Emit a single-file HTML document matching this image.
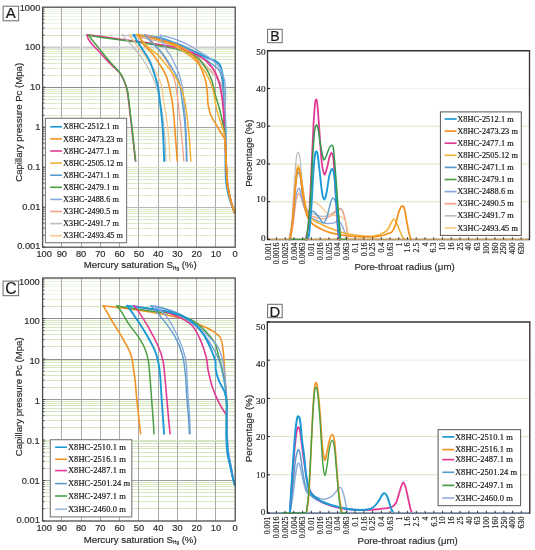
<!DOCTYPE html>
<html><head><meta charset="utf-8"><title>Capillary pressure and pore-throat distribution</title>
<style>html,body{margin:0;padding:0;background:#fff;width:535px;height:550px;overflow:hidden}</style>
</head><body>
<svg width="535" height="550" viewBox="0 0 535 550" style="display:block">
<rect width="535" height="550" fill="#ffffff"/>
<rect x="42.6" y="7.2" width="192.6" height="240" fill="#ffffff"/>
<line x1="42.6" y1="235.5" x2="235.2" y2="235.5" stroke="#dcebc8" stroke-width="1"/>
<line x1="42.6" y1="228.5" x2="235.2" y2="228.5" stroke="#dcebc8" stroke-width="1"/>
<line x1="42.6" y1="223.5" x2="235.2" y2="223.5" stroke="#dcebc8" stroke-width="1"/>
<line x1="42.6" y1="219.5" x2="235.2" y2="219.5" stroke="#dcebc8" stroke-width="1"/>
<line x1="42.6" y1="216.5" x2="235.2" y2="216.5" stroke="#dcebc8" stroke-width="1"/>
<line x1="42.6" y1="213.5" x2="235.2" y2="213.5" stroke="#dcebc8" stroke-width="1"/>
<line x1="42.6" y1="211.5" x2="235.2" y2="211.5" stroke="#dcebc8" stroke-width="1"/>
<line x1="42.6" y1="209.5" x2="235.2" y2="209.5" stroke="#dcebc8" stroke-width="1"/>
<line x1="42.6" y1="195.5" x2="235.2" y2="195.5" stroke="#dcebc8" stroke-width="1"/>
<line x1="42.6" y1="188.5" x2="235.2" y2="188.5" stroke="#dcebc8" stroke-width="1"/>
<line x1="42.6" y1="183.5" x2="235.2" y2="183.5" stroke="#dcebc8" stroke-width="1"/>
<line x1="42.6" y1="179.5" x2="235.2" y2="179.5" stroke="#dcebc8" stroke-width="1"/>
<line x1="42.6" y1="176.5" x2="235.2" y2="176.5" stroke="#dcebc8" stroke-width="1"/>
<line x1="42.6" y1="173.5" x2="235.2" y2="173.5" stroke="#dcebc8" stroke-width="1"/>
<line x1="42.6" y1="171.5" x2="235.2" y2="171.5" stroke="#dcebc8" stroke-width="1"/>
<line x1="42.6" y1="169.5" x2="235.2" y2="169.5" stroke="#dcebc8" stroke-width="1"/>
<line x1="42.6" y1="155.5" x2="235.2" y2="155.5" stroke="#dcebc8" stroke-width="1"/>
<line x1="42.6" y1="148.5" x2="235.2" y2="148.5" stroke="#dcebc8" stroke-width="1"/>
<line x1="42.6" y1="143.5" x2="235.2" y2="143.5" stroke="#dcebc8" stroke-width="1"/>
<line x1="42.6" y1="139.5" x2="235.2" y2="139.5" stroke="#dcebc8" stroke-width="1"/>
<line x1="42.6" y1="136.5" x2="235.2" y2="136.5" stroke="#dcebc8" stroke-width="1"/>
<line x1="42.6" y1="133.5" x2="235.2" y2="133.5" stroke="#dcebc8" stroke-width="1"/>
<line x1="42.6" y1="131.5" x2="235.2" y2="131.5" stroke="#dcebc8" stroke-width="1"/>
<line x1="42.6" y1="129.5" x2="235.2" y2="129.5" stroke="#dcebc8" stroke-width="1"/>
<line x1="42.6" y1="115.5" x2="235.2" y2="115.5" stroke="#dcebc8" stroke-width="1"/>
<line x1="42.6" y1="108.5" x2="235.2" y2="108.5" stroke="#dcebc8" stroke-width="1"/>
<line x1="42.6" y1="103.5" x2="235.2" y2="103.5" stroke="#dcebc8" stroke-width="1"/>
<line x1="42.6" y1="99.5" x2="235.2" y2="99.5" stroke="#dcebc8" stroke-width="1"/>
<line x1="42.6" y1="96.5" x2="235.2" y2="96.5" stroke="#dcebc8" stroke-width="1"/>
<line x1="42.6" y1="93.5" x2="235.2" y2="93.5" stroke="#dcebc8" stroke-width="1"/>
<line x1="42.6" y1="91.5" x2="235.2" y2="91.5" stroke="#dcebc8" stroke-width="1"/>
<line x1="42.6" y1="89.5" x2="235.2" y2="89.5" stroke="#dcebc8" stroke-width="1"/>
<line x1="42.6" y1="75.5" x2="235.2" y2="75.5" stroke="#dcebc8" stroke-width="1"/>
<line x1="42.6" y1="68.5" x2="235.2" y2="68.5" stroke="#dcebc8" stroke-width="1"/>
<line x1="42.6" y1="63.5" x2="235.2" y2="63.5" stroke="#dcebc8" stroke-width="1"/>
<line x1="42.6" y1="59.5" x2="235.2" y2="59.5" stroke="#dcebc8" stroke-width="1"/>
<line x1="42.6" y1="56.5" x2="235.2" y2="56.5" stroke="#dcebc8" stroke-width="1"/>
<line x1="42.6" y1="53.5" x2="235.2" y2="53.5" stroke="#dcebc8" stroke-width="1"/>
<line x1="42.6" y1="51.5" x2="235.2" y2="51.5" stroke="#dcebc8" stroke-width="1"/>
<line x1="42.6" y1="49.5" x2="235.2" y2="49.5" stroke="#dcebc8" stroke-width="1"/>
<line x1="42.6" y1="35.5" x2="235.2" y2="35.5" stroke="#d3e7bf" stroke-width="1"/>
<line x1="42.6" y1="28.5" x2="235.2" y2="28.5" stroke="#dfedd0" stroke-width="1"/>
<line x1="42.6" y1="23.5" x2="235.2" y2="23.5" stroke="#ecf4e4" stroke-width="1"/>
<line x1="42.6" y1="19.5" x2="235.2" y2="19.5" stroke="#ecf4e4" stroke-width="1"/>
<line x1="42.6" y1="16.5" x2="235.2" y2="16.5" stroke="#ecf4e4" stroke-width="1"/>
<line x1="42.6" y1="13.5" x2="235.2" y2="13.5" stroke="#ecf4e4" stroke-width="1"/>
<line x1="42.6" y1="11.5" x2="235.2" y2="11.5" stroke="#ecf4e4" stroke-width="1"/>
<line x1="42.6" y1="9.5" x2="235.2" y2="9.5" stroke="#ecf4e4" stroke-width="1"/>
<line x1="215.5" y1="7.2" x2="215.5" y2="247.2" stroke="#ababab" stroke-width="1"/>
<line x1="196.5" y1="7.2" x2="196.5" y2="247.2" stroke="#ababab" stroke-width="1"/>
<line x1="177.5" y1="7.2" x2="177.5" y2="247.2" stroke="#ababab" stroke-width="1"/>
<line x1="158.5" y1="7.2" x2="158.5" y2="247.2" stroke="#ababab" stroke-width="1"/>
<line x1="138.5" y1="7.2" x2="138.5" y2="247.2" stroke="#ababab" stroke-width="1"/>
<line x1="119.5" y1="7.2" x2="119.5" y2="247.2" stroke="#ababab" stroke-width="1"/>
<line x1="100.5" y1="7.2" x2="100.5" y2="247.2" stroke="#ababab" stroke-width="1"/>
<line x1="81.5" y1="7.2" x2="81.5" y2="247.2" stroke="#ababab" stroke-width="1"/>
<line x1="61.5" y1="7.2" x2="61.5" y2="247.2" stroke="#ababab" stroke-width="1"/>
<line x1="42.6" y1="207.5" x2="235.2" y2="207.5" stroke="#bdb4b6" stroke-width="1.1"/>
<line x1="42.6" y1="167.5" x2="235.2" y2="167.5" stroke="#d6e6c8" stroke-width="1"/>
<line x1="42.6" y1="127.5" x2="235.2" y2="127.5" stroke="#a3a3a3" stroke-width="1.1"/>
<line x1="42.6" y1="87.5" x2="235.2" y2="87.5" stroke="#8c8c8c" stroke-width="1.1"/>
<line x1="42.6" y1="47.5" x2="235.2" y2="47.5" stroke="#cdcdcd" stroke-width="2"/>
<line x1="42.6" y1="247.2" x2="45.1" y2="247.2" stroke="#333" stroke-width="0.9"/>
<line x1="42.6" y1="235.16" x2="44.4" y2="235.16" stroke="#333" stroke-width="0.9"/>
<line x1="42.6" y1="228.12" x2="44.4" y2="228.12" stroke="#333" stroke-width="0.9"/>
<line x1="42.6" y1="223.12" x2="44.4" y2="223.12" stroke="#333" stroke-width="0.9"/>
<line x1="42.6" y1="219.24" x2="44.4" y2="219.24" stroke="#333" stroke-width="0.9"/>
<line x1="42.6" y1="216.07" x2="44.4" y2="216.07" stroke="#333" stroke-width="0.9"/>
<line x1="42.6" y1="213.4" x2="44.4" y2="213.4" stroke="#333" stroke-width="0.9"/>
<line x1="42.6" y1="211.08" x2="44.4" y2="211.08" stroke="#333" stroke-width="0.9"/>
<line x1="42.6" y1="209.03" x2="44.4" y2="209.03" stroke="#333" stroke-width="0.9"/>
<line x1="42.6" y1="207.2" x2="45.1" y2="207.2" stroke="#333" stroke-width="0.9"/>
<line x1="42.6" y1="195.16" x2="44.4" y2="195.16" stroke="#333" stroke-width="0.9"/>
<line x1="42.6" y1="188.12" x2="44.4" y2="188.12" stroke="#333" stroke-width="0.9"/>
<line x1="42.6" y1="183.12" x2="44.4" y2="183.12" stroke="#333" stroke-width="0.9"/>
<line x1="42.6" y1="179.24" x2="44.4" y2="179.24" stroke="#333" stroke-width="0.9"/>
<line x1="42.6" y1="176.07" x2="44.4" y2="176.07" stroke="#333" stroke-width="0.9"/>
<line x1="42.6" y1="173.4" x2="44.4" y2="173.4" stroke="#333" stroke-width="0.9"/>
<line x1="42.6" y1="171.08" x2="44.4" y2="171.08" stroke="#333" stroke-width="0.9"/>
<line x1="42.6" y1="169.03" x2="44.4" y2="169.03" stroke="#333" stroke-width="0.9"/>
<line x1="42.6" y1="167.2" x2="45.1" y2="167.2" stroke="#333" stroke-width="0.9"/>
<line x1="42.6" y1="155.16" x2="44.4" y2="155.16" stroke="#333" stroke-width="0.9"/>
<line x1="42.6" y1="148.12" x2="44.4" y2="148.12" stroke="#333" stroke-width="0.9"/>
<line x1="42.6" y1="143.12" x2="44.4" y2="143.12" stroke="#333" stroke-width="0.9"/>
<line x1="42.6" y1="139.24" x2="44.4" y2="139.24" stroke="#333" stroke-width="0.9"/>
<line x1="42.6" y1="136.07" x2="44.4" y2="136.07" stroke="#333" stroke-width="0.9"/>
<line x1="42.6" y1="133.4" x2="44.4" y2="133.4" stroke="#333" stroke-width="0.9"/>
<line x1="42.6" y1="131.08" x2="44.4" y2="131.08" stroke="#333" stroke-width="0.9"/>
<line x1="42.6" y1="129.03" x2="44.4" y2="129.03" stroke="#333" stroke-width="0.9"/>
<line x1="42.6" y1="127.2" x2="45.1" y2="127.2" stroke="#333" stroke-width="0.9"/>
<line x1="42.6" y1="115.16" x2="44.4" y2="115.16" stroke="#333" stroke-width="0.9"/>
<line x1="42.6" y1="108.12" x2="44.4" y2="108.12" stroke="#333" stroke-width="0.9"/>
<line x1="42.6" y1="103.12" x2="44.4" y2="103.12" stroke="#333" stroke-width="0.9"/>
<line x1="42.6" y1="99.24" x2="44.4" y2="99.24" stroke="#333" stroke-width="0.9"/>
<line x1="42.6" y1="96.07" x2="44.4" y2="96.07" stroke="#333" stroke-width="0.9"/>
<line x1="42.6" y1="93.4" x2="44.4" y2="93.4" stroke="#333" stroke-width="0.9"/>
<line x1="42.6" y1="91.08" x2="44.4" y2="91.08" stroke="#333" stroke-width="0.9"/>
<line x1="42.6" y1="89.03" x2="44.4" y2="89.03" stroke="#333" stroke-width="0.9"/>
<line x1="42.6" y1="87.2" x2="45.1" y2="87.2" stroke="#333" stroke-width="0.9"/>
<line x1="42.6" y1="75.16" x2="44.4" y2="75.16" stroke="#333" stroke-width="0.9"/>
<line x1="42.6" y1="68.12" x2="44.4" y2="68.12" stroke="#333" stroke-width="0.9"/>
<line x1="42.6" y1="63.12" x2="44.4" y2="63.12" stroke="#333" stroke-width="0.9"/>
<line x1="42.6" y1="59.24" x2="44.4" y2="59.24" stroke="#333" stroke-width="0.9"/>
<line x1="42.6" y1="56.07" x2="44.4" y2="56.07" stroke="#333" stroke-width="0.9"/>
<line x1="42.6" y1="53.4" x2="44.4" y2="53.4" stroke="#333" stroke-width="0.9"/>
<line x1="42.6" y1="51.08" x2="44.4" y2="51.08" stroke="#333" stroke-width="0.9"/>
<line x1="42.6" y1="49.03" x2="44.4" y2="49.03" stroke="#333" stroke-width="0.9"/>
<line x1="42.6" y1="47.2" x2="45.1" y2="47.2" stroke="#333" stroke-width="0.9"/>
<line x1="42.6" y1="35.16" x2="44.4" y2="35.16" stroke="#333" stroke-width="0.9"/>
<line x1="42.6" y1="28.12" x2="44.4" y2="28.12" stroke="#333" stroke-width="0.9"/>
<line x1="42.6" y1="23.12" x2="44.4" y2="23.12" stroke="#333" stroke-width="0.9"/>
<line x1="42.6" y1="19.24" x2="44.4" y2="19.24" stroke="#333" stroke-width="0.9"/>
<line x1="42.6" y1="16.07" x2="44.4" y2="16.07" stroke="#333" stroke-width="0.9"/>
<line x1="42.6" y1="13.4" x2="44.4" y2="13.4" stroke="#333" stroke-width="0.9"/>
<line x1="42.6" y1="11.08" x2="44.4" y2="11.08" stroke="#333" stroke-width="0.9"/>
<line x1="42.6" y1="9.03" x2="44.4" y2="9.03" stroke="#333" stroke-width="0.9"/>
<path d="M234.7,213 C234.1,211.43 232.23,206.98 231.1,203.6 C229.98,200.22 228.8,196.33 227.97,192.7 C227.13,189.07 226.5,185.58 226.1,181.8 C225.7,178.02 225.68,173.63 225.58,170 C225.47,166.37 225.47,163.33 225.47,160 C225.48,156.67 225.58,155 225.6,150 C225.62,145 225.73,136.67 225.6,130 C225.47,123.33 225.13,116.67 224.8,110 C224.47,103.33 223.93,95.5 223.6,90 C223.27,84.5 223.07,80.1 222.8,77 C222.53,73.9 222.5,73.45 222,71.4 C221.5,69.35 220.82,66.38 219.8,64.7 C218.78,63.02 217.87,62.42 215.9,61.3 C213.93,60.18 211.73,59.68 208,58 C204.27,56.32 198.17,53.37 193.5,51.2 C188.83,49.03 185.37,47.18 180,45 C174.63,42.82 166.63,39.57 161.3,38.1 C155.97,36.63 152.63,36.72 148,36.2 C143.37,35.68 135.92,35.2 133.5,35" fill="none" stroke="#1d9ad6" stroke-width="1.9" stroke-linejoin="round" stroke-linecap="round"/>
<path d="M234.7,213 C234.22,211.43 232.72,206.98 231.83,203.6 C230.93,200.22 230.01,196.33 229.32,192.7 C228.64,189.07 228.1,185.58 227.7,181.8 C227.3,178.02 227.16,173.63 226.92,170 C226.68,166.37 226.46,163.33 226.24,160 C226.02,156.67 225.77,153.33 225.6,150 C225.43,146.67 225.33,143.67 225.2,140 C225.07,136.33 224.92,132.17 224.8,128 C224.68,123.83 224.38,119.67 224.5,115 C224.62,110.33 225.43,105.5 225.5,100 C225.57,94.5 225.57,86.67 224.9,82 C224.23,77.33 222.43,74.52 221.5,72 C220.57,69.48 221.55,69.43 219.3,66.9 C217.05,64.37 211.22,59.27 208,56.8 C204.78,54.33 202.92,53.9 200,52.1 C197.08,50.3 194.33,48.05 190.5,46 C186.67,43.95 182.05,41.58 177,39.8 C171.95,38.02 163,36.05 160.2,35.3" fill="none" stroke="#86a6dc" stroke-width="1.3" stroke-linejoin="round" stroke-linecap="round"/>
<path d="M234.7,213 C234.18,211.43 232.57,206.98 231.6,203.6 C230.63,200.22 229.63,196.33 228.9,192.7 C228.17,189.07 227.6,185.58 227.2,181.8 C226.8,178.02 226.7,173.63 226.5,170 C226.3,166.37 226.15,163.33 226,160 C225.85,156.67 225.73,153.67 225.6,150 C225.47,146.33 225.37,142.17 225.2,138 C225.03,133.83 224.75,131.33 224.6,125 C224.45,118.67 224.82,106.68 224.3,100 C223.78,93.32 223.28,89.3 221.5,84.9 C219.72,80.5 216.35,76.92 213.6,73.6 C210.85,70.28 208.93,68.27 205,65 C201.07,61.73 195.83,57.67 190,54 C184.17,50.33 175.33,45.67 170,43 C164.67,40.33 162.08,39.4 158,38 C153.92,36.6 147.58,35.17 145.5,34.6" fill="none" stroke="#f5a088" stroke-width="1.3" stroke-linejoin="round" stroke-linecap="round"/>
<path d="M234.7,213 C234.18,211.43 232.57,206.98 231.6,203.6 C230.63,200.22 229.63,196.33 228.9,192.7 C228.17,189.07 227.6,185.58 227.2,181.8 C226.8,178.02 226.7,173.63 226.5,170 C226.3,166.37 226.15,163.33 226,160 C225.85,156.67 225.73,153.67 225.6,150 C225.47,146.33 225.37,142.17 225.2,138 C225.03,133.83 224.8,131.33 224.6,125 C224.4,118.67 224.6,106.67 224,100 C223.4,93.33 222.83,89.5 221,85 C219.17,80.5 216.5,76.83 213,73 C209.5,69.17 204.67,65.5 200,62 C195.33,58.5 190.83,55.17 185,52 C179.17,48.83 171.67,45.33 165,43 C158.33,40.67 151,39.38 145,38 C139,36.62 131.67,35.25 129,34.7" fill="none" stroke="#f8c98c" stroke-width="1.3" stroke-linejoin="round" stroke-linecap="round"/>
<path d="M234.7,213 C234.18,211.43 232.57,206.98 231.6,203.6 C230.63,200.22 229.63,196.33 228.9,192.7 C228.17,189.07 227.6,185.58 227.2,181.8 C226.8,178.02 226.7,173.63 226.5,170 C226.3,166.37 226.15,163.33 226,160 C225.85,156.67 225.72,153.67 225.6,150 C225.48,146.33 225.45,142.17 225.3,138 C225.15,133.83 224.83,131.33 224.7,125 C224.57,118.67 225.12,106.67 224.5,100 C223.88,93.33 222.92,89.33 221,85 C219.08,80.67 216.5,77.67 213,74 C209.5,70.33 205.5,67 200,63 C194.5,59 186.67,53.5 180,50 C173.33,46.5 166.67,44.08 160,42 C153.33,39.92 146.33,38.67 140,37.5 C133.67,36.33 125,35.42 122,35" fill="none" stroke="#bdbdbd" stroke-width="1.2" stroke-linejoin="round" stroke-linecap="round"/>
<path d="M234.7,213 C234.14,211.43 232.38,206.98 231.33,203.6 C230.28,200.22 229.18,196.33 228.39,192.7 C227.6,189.07 227,185.58 226.6,181.8 C226.2,178.02 226.14,173.63 226,170 C225.85,166.37 225.78,163.33 225.71,160 C225.65,156.67 225.69,154.17 225.6,150 C225.51,145.83 225.42,140.83 225.2,135 C224.98,129.17 224.62,122.17 224.3,115 C223.98,107.83 223.77,98.33 223.3,92 C222.83,85.67 222.22,80.67 221.5,77 C220.78,73.33 220.58,72.17 219,70 C217.42,67.83 215.17,66.42 212,64 C208.83,61.58 204.5,58.25 200,55.5 C195.5,52.75 190.83,50.08 185,47.5 C179.17,44.92 171.75,42.08 165,40 C158.25,37.92 147.92,35.83 144.5,35" fill="none" stroke="#5b9ccc" stroke-width="1.4" stroke-linejoin="round" stroke-linecap="round"/>
<path d="M234.7,213 C234.18,211.43 232.57,206.98 231.6,203.6 C230.63,200.22 229.63,196.33 228.9,192.7 C228.17,189.07 227.6,185.58 227.2,181.8 C226.8,178.02 226.7,173.63 226.5,170 C226.3,166.37 226.15,163.33 226,160 C225.85,156.67 225.73,153.67 225.6,150 C225.47,146.33 225.43,141.23 225.2,138 C224.97,134.77 224.47,134.8 224.2,130.6 C223.93,126.4 224.05,118.93 223.6,112.8 C223.15,106.67 222.42,99.38 221.5,93.8 C220.58,88.22 219.6,83.6 218.1,79.3 C216.6,75 215.12,71.55 212.5,68 C209.88,64.45 207.82,61.27 202.4,58 C196.98,54.73 187.07,50.6 180,48.4 C172.93,46.2 166.67,45.87 160,44.8 C153.33,43.73 150,43.4 140,42 C130,40.6 108.83,37.57 100,36.4 C91.17,35.23 89.17,35.23 87,35" fill="none" stroke="#e23a94" stroke-width="1.8" stroke-linejoin="round" stroke-linecap="round"/>
<path d="M234.7,213 C234.18,211.43 232.57,206.98 231.6,203.6 C230.63,200.22 229.63,196.33 228.9,192.7 C228.17,189.07 227.6,185.58 227.2,181.8 C226.8,178.02 226.7,173.63 226.5,170 C226.3,166.37 226.15,163.33 226,160 C225.85,156.67 225.68,152.37 225.6,150 C225.52,147.63 225.73,149.03 225.5,145.8 C225.27,142.57 225.25,136.95 224.2,130.6 C223.15,124.25 220.68,113.63 219.2,107.7 C217.72,101.77 216.6,99.73 215.3,95 C214,90.27 212.98,83.8 211.4,79.3 C209.82,74.8 208.23,71.75 205.8,68 C203.37,64.25 201.1,59.78 196.8,56.8 C192.5,53.82 186.13,51.92 180,50.1 C173.87,48.28 166.67,47.15 160,45.9 C153.33,44.65 150,44.05 140,42.6 C130,41.15 108.67,38.43 100,37.2 C91.33,35.97 90,35.53 88,35.2" fill="none" stroke="#4a9e44" stroke-width="1.5" stroke-linejoin="round" stroke-linecap="round"/>
<path d="M234.7,213 C234.18,211.43 232.57,206.98 231.6,203.6 C230.63,200.22 229.63,196.33 228.9,192.7 C228.17,189.07 227.6,185.58 227.2,181.8 C226.8,178.02 226.7,173.63 226.5,170 C226.3,166.37 226.15,163.33 226,160 C225.85,156.67 225.85,154 225.6,150 C225.35,146 224.93,139.45 224.5,136 C224.07,132.55 224.22,133.38 223,129.3 C221.78,125.22 218.68,117.22 217.2,111.5 C215.72,105.78 214.88,98.92 214.1,95 C213.32,91.08 213.32,90.62 212.5,88 C211.68,85.38 210.88,82.63 209.2,79.3 C207.52,75.97 205.6,71.88 202.4,68 C199.2,64.12 194.57,59.67 190,56 C185.43,52.33 180,48.58 175,46 C170,43.42 164.5,42 160,40.5 C155.5,39 151.92,37.98 148,37 C144.08,36.02 138.42,35 136.5,34.6" fill="none" stroke="#f2b134" stroke-width="1.5" stroke-linejoin="round" stroke-linecap="round"/>
<path d="M234.7,213 C234.18,211.43 232.57,206.98 231.6,203.6 C230.63,200.22 229.63,196.33 228.9,192.7 C228.17,189.07 227.6,185.58 227.2,181.8 C226.8,178.02 226.7,173.63 226.5,170 C226.3,166.37 226.15,163.33 226,160 C225.85,156.67 225.78,153.35 225.6,150 C225.42,146.65 225.32,142.18 224.9,139.9 C224.48,137.62 223.95,137.78 223.1,136.3 C222.25,134.82 220.85,132.82 219.8,131 C218.75,129.18 218.22,127.85 216.8,125.4 C215.38,122.95 212.73,119.63 211.3,116.3 C209.87,112.97 208.87,109.33 208.2,105.4 C207.53,101.47 207.68,96.63 207.3,92.7 C206.92,88.77 206.75,85.43 205.9,81.8 C205.05,78.17 203.72,74.53 202.2,70.9 C200.68,67.27 199.17,63.23 196.8,60 C194.43,56.77 191.13,53.92 188,51.5 C184.87,49.08 181.83,47.22 178,45.5 C174.17,43.78 169.67,42.53 165,41.2 C160.33,39.87 154.48,38.53 150,37.5 C145.52,36.47 140.08,35.42 138.1,35" fill="none" stroke="#f39224" stroke-width="1.6" stroke-linejoin="round" stroke-linecap="round"/>
<path d="M122,34.7 C123.2,36.02 126.87,39.97 129.2,42.6 C131.53,45.23 133.87,47.93 136,50.5 C138.13,53.07 139.8,54.75 142,58 C144.2,61.25 147.2,66.33 149.2,70 C151.2,73.67 152.62,76.67 154,80 C155.38,83.33 156.5,86.67 157.5,90 C158.5,93.33 159.17,95.83 160,100 C160.83,104.17 161.78,110 162.5,115 C163.22,120 163.83,125 164.3,130 C164.77,135 165.02,139.83 165.3,145 C165.58,150.17 165.88,158.33 166,161" fill="none" stroke="#bdbdbd" stroke-width="1.2" stroke-linejoin="round" stroke-linecap="round"/>
<path d="M129,34.7 C129.62,35.53 130.7,37 132.7,39.7 C134.7,42.4 138.78,48.02 141,50.9 C143.22,53.78 144.33,54.65 146,57 C147.67,59.35 149.07,61.97 151,65 C152.93,68.03 155.8,71.53 157.6,75.2 C159.4,78.87 160.82,82.87 161.8,87 C162.78,91.13 162.8,95.33 163.5,100 C164.2,104.67 165.25,110 166,115 C166.75,120 167.47,125 168,130 C168.53,135 168.88,139.83 169.2,145 C169.52,150.17 169.78,158.33 169.9,161" fill="none" stroke="#f8c98c" stroke-width="1.3" stroke-linejoin="round" stroke-linecap="round"/>
<path d="M145.5,34.6 C146.12,35.2 147.33,36.1 149.2,38.2 C151.07,40.3 154.47,44.4 156.7,47.2 C158.93,50 160.63,52.15 162.6,55 C164.57,57.85 166.82,61.08 168.5,64.3 C170.18,67.52 171.58,71.22 172.7,74.3 C173.82,77.38 174.5,79.72 175.2,82.8 C175.9,85.88 176.47,89.93 176.9,92.8 C177.33,95.67 177.37,96.3 177.8,100 C178.23,103.7 178.97,110 179.5,115 C180.03,120 180.45,124.5 181,130 C181.55,135.5 182.33,142.83 182.8,148 C183.27,153.17 183.63,158.83 183.8,161" fill="none" stroke="#f5a088" stroke-width="1.3" stroke-linejoin="round" stroke-linecap="round"/>
<path d="M160.4,34.9 C160.65,35.83 160.78,37.83 161.9,40.5 C163.02,43.17 165.72,48.48 167.1,50.9 C168.48,53.32 168.85,52.63 170.2,55 C171.55,57.37 173.67,61.73 175.2,65.1 C176.73,68.47 178.2,71.55 179.4,75.2 C180.6,78.85 181.7,82.87 182.4,87 C183.1,91.13 183.17,95.33 183.6,100 C184.03,104.67 184.6,110 185,115 C185.4,120 185.73,125 186,130 C186.27,135 186.43,139.83 186.6,145 C186.77,150.17 186.93,158.33 187,161" fill="none" stroke="#86a6dc" stroke-width="1.3" stroke-linejoin="round" stroke-linecap="round"/>
<path d="M144.5,34.8 C145.53,35.87 148.67,39.13 150.7,41.2 C152.73,43.27 154.57,44.9 156.7,47.2 C158.83,49.5 161.25,52.02 163.5,55 C165.75,57.98 168.1,61.73 170.2,65.1 C172.3,68.47 174.48,71.98 176.1,75.2 C177.72,78.42 178.92,80.27 179.9,84.4 C180.88,88.53 181.32,94.9 182,100 C182.68,105.1 183.45,110 184,115 C184.55,120 184.97,125 185.3,130 C185.63,135 185.8,139.83 186,145 C186.2,150.17 186.42,158.33 186.5,161" fill="none" stroke="#5b9ccc" stroke-width="1.4" stroke-linejoin="round" stroke-linecap="round"/>
<path d="M136.5,34.6 C137.25,35.45 139.5,38.05 141,39.7 C142.5,41.35 143.88,42.88 145.5,44.5 C147.12,46.12 148.62,47.65 150.7,49.4 C152.78,51.15 155.73,52.8 158,55 C160.27,57.2 162.27,60.08 164.3,62.6 C166.33,65.12 168.38,67.72 170.2,70.1 C172.02,72.48 173.67,74.52 175.2,76.9 C176.73,79.28 178.27,82.17 179.4,84.4 C180.53,86.63 181.15,87.7 182,90.3 C182.85,92.9 183.75,96.38 184.5,100 C185.25,103.62 185.92,107.83 186.5,112 C187.08,116.17 187.5,120.33 188,125 C188.5,129.67 189.03,134 189.5,140 C189.97,146 190.58,157.5 190.8,161" fill="none" stroke="#f2b134" stroke-width="1.5" stroke-linejoin="round" stroke-linecap="round"/>
<path d="M138.7,34.6 C139.17,35.5 140.62,38.27 141.5,40 C142.38,41.73 142.72,43.3 144,45 C145.28,46.7 147.63,48.53 149.2,50.2 C150.77,51.87 151.58,52.52 153.4,55 C155.22,57.48 158,61.73 160.1,65.1 C162.2,68.47 164.47,71.55 166,75.2 C167.53,78.85 168.32,82.87 169.3,87 C170.28,91.13 171.15,95.33 171.9,100 C172.65,104.67 173.23,109.17 173.8,115 C174.37,120.83 174.85,129.17 175.3,135 C175.75,140.83 176.17,145.67 176.5,150 C176.83,154.33 177.17,159.17 177.3,161" fill="none" stroke="#f39224" stroke-width="1.6" stroke-linejoin="round" stroke-linecap="round"/>
<path d="M133.5,34.8 C133.83,35.33 134.88,36.93 135.5,38 C136.12,39.07 136.42,39.92 137.2,41.2 C137.98,42.48 138.82,43.58 140.2,45.7 C141.58,47.82 143.8,51.08 145.5,53.9 C147.2,56.72 148.82,58.92 150.4,62.6 C151.98,66.28 153.73,71.93 155,76 C156.27,80.07 157.22,83 158,87 C158.78,91 159.12,95.33 159.7,100 C160.28,104.67 160.98,110 161.5,115 C162.02,120 162.45,125 162.8,130 C163.15,135 163.37,139.83 163.6,145 C163.83,150.17 164.1,158.33 164.2,161" fill="none" stroke="#1d9ad6" stroke-width="1.9" stroke-linejoin="round" stroke-linecap="round"/>
<path d="M87,35 C87.27,35.75 87.6,37.8 88.6,39.5 C89.6,41.2 91.1,43.03 93,45.2 C94.9,47.37 97.8,50.13 100,52.5 C102.2,54.87 104.03,57.07 106.2,59.4 C108.37,61.73 110.82,64.32 113,66.5 C115.18,68.68 117.63,70.5 119.3,72.5 C120.97,74.5 121.97,76.42 123,78.5 C124.03,80.58 124.8,82.92 125.5,85 C126.2,87.08 126.7,88.5 127.2,91 C127.7,93.5 128,96 128.5,100 C129,104 129.62,110 130.2,115 C130.78,120 131.37,124.5 132,130 C132.63,135.5 133.43,142.83 134,148 C134.57,153.17 135.17,158.83 135.4,161" fill="none" stroke="#e23a94" stroke-width="1.6" stroke-linejoin="round" stroke-linecap="round"/>
<path d="M88.2,35.2 C88.63,35.7 89.5,36.6 90.8,38.2 C92.1,39.8 94.22,42.58 96,44.8 C97.78,47.02 99.67,49.25 101.5,51.5 C103.33,53.75 105.03,55.97 107,58.3 C108.97,60.63 111.22,63.17 113.3,65.5 C115.38,67.83 117.83,70.13 119.5,72.3 C121.17,74.47 122.25,76.38 123.3,78.5 C124.35,80.62 125.1,82.92 125.8,85 C126.5,87.08 127,88.5 127.5,91 C128,93.5 128.3,96 128.8,100 C129.3,104 129.92,110 130.5,115 C131.08,120 131.68,124.5 132.3,130 C132.92,135.5 133.63,142.83 134.2,148 C134.77,153.17 135.45,158.83 135.7,161" fill="none" stroke="#4a9e44" stroke-width="1.5" stroke-linejoin="round" stroke-linecap="round"/>
<rect x="42.6" y="7.2" width="192.6" height="240" fill="none" stroke="#4d4d4d" stroke-width="1.3"/>
<text x="40.4" y="10.93" font-family="'Liberation Sans', Arial, sans-serif" font-size="9.3" text-anchor="end" fill="#2e2e2e" stroke="#2e2e2e" stroke-width="0.2">1000</text>
<text x="40.4" y="50.13" font-family="'Liberation Sans', Arial, sans-serif" font-size="9.3" text-anchor="end" fill="#2e2e2e" stroke="#2e2e2e" stroke-width="0.2">100</text>
<text x="40.4" y="89.83" font-family="'Liberation Sans', Arial, sans-serif" font-size="9.3" text-anchor="end" fill="#2e2e2e" stroke="#2e2e2e" stroke-width="0.2">10</text>
<text x="40.4" y="130.33" font-family="'Liberation Sans', Arial, sans-serif" font-size="9.3" text-anchor="end" fill="#2e2e2e" stroke="#2e2e2e" stroke-width="0.2">1</text>
<text x="40.4" y="170.23" font-family="'Liberation Sans', Arial, sans-serif" font-size="9.3" text-anchor="end" fill="#2e2e2e" stroke="#2e2e2e" stroke-width="0.2">0.1</text>
<text x="40.4" y="210.13" font-family="'Liberation Sans', Arial, sans-serif" font-size="9.3" text-anchor="end" fill="#2e2e2e" stroke="#2e2e2e" stroke-width="0.2">0.01</text>
<text x="40.4" y="248.63" font-family="'Liberation Sans', Arial, sans-serif" font-size="9.3" text-anchor="end" fill="#2e2e2e" stroke="#2e2e2e" stroke-width="0.2">0.001</text>
<text x="44.2" y="256.9" font-family="'Liberation Sans', Arial, sans-serif" font-size="9.3" text-anchor="middle" fill="#2e2e2e" stroke="#2e2e2e" stroke-width="0.2">100</text>
<text x="61.86" y="256.9" font-family="'Liberation Sans', Arial, sans-serif" font-size="9.3" text-anchor="middle" fill="#2e2e2e" stroke="#2e2e2e" stroke-width="0.2">90</text>
<text x="81.12" y="256.9" font-family="'Liberation Sans', Arial, sans-serif" font-size="9.3" text-anchor="middle" fill="#2e2e2e" stroke="#2e2e2e" stroke-width="0.2">80</text>
<text x="100.38" y="256.9" font-family="'Liberation Sans', Arial, sans-serif" font-size="9.3" text-anchor="middle" fill="#2e2e2e" stroke="#2e2e2e" stroke-width="0.2">70</text>
<text x="119.64" y="256.9" font-family="'Liberation Sans', Arial, sans-serif" font-size="9.3" text-anchor="middle" fill="#2e2e2e" stroke="#2e2e2e" stroke-width="0.2">60</text>
<text x="138.9" y="256.9" font-family="'Liberation Sans', Arial, sans-serif" font-size="9.3" text-anchor="middle" fill="#2e2e2e" stroke="#2e2e2e" stroke-width="0.2">50</text>
<text x="158.16" y="256.9" font-family="'Liberation Sans', Arial, sans-serif" font-size="9.3" text-anchor="middle" fill="#2e2e2e" stroke="#2e2e2e" stroke-width="0.2">40</text>
<text x="177.42" y="256.9" font-family="'Liberation Sans', Arial, sans-serif" font-size="9.3" text-anchor="middle" fill="#2e2e2e" stroke="#2e2e2e" stroke-width="0.2">30</text>
<text x="196.68" y="256.9" font-family="'Liberation Sans', Arial, sans-serif" font-size="9.3" text-anchor="middle" fill="#2e2e2e" stroke="#2e2e2e" stroke-width="0.2">20</text>
<text x="215.94" y="256.9" font-family="'Liberation Sans', Arial, sans-serif" font-size="9.3" text-anchor="middle" fill="#2e2e2e" stroke="#2e2e2e" stroke-width="0.2">10</text>
<text x="235.2" y="256.9" font-family="'Liberation Sans', Arial, sans-serif" font-size="9.3" text-anchor="middle" fill="#2e2e2e" stroke="#2e2e2e" stroke-width="0.2">0</text>
<text x="83.7" y="268.3" font-family="'Liberation Sans', Arial, sans-serif" font-size="9.7" fill="#2e2e2e" stroke="#2e2e2e" stroke-width="0.2">Mercury saturation S<tspan font-size="4.6" dy="1.7">Hg</tspan><tspan dy="-1.7"> (%)</tspan></text>
<text transform="translate(21.6,122.3) rotate(-90)" font-family="'Liberation Sans', Arial, sans-serif" font-size="9.6" text-anchor="middle" fill="#2e2e2e" stroke="#2e2e2e" stroke-width="0.2">Capillary pressure Pc (Mpa)</text>
<rect x="3.1" y="6.2" width="15.5" height="14.6" fill="#ffffff" stroke="#6a6a6a" stroke-width="1"/>
<text x="10.85" y="18.3" font-family="'Liberation Sans', Arial, sans-serif" font-size="15" text-anchor="middle" fill="#1a1a1a" stroke="#1a1a1a" stroke-width="0.2">A</text>
<rect x="45.4" y="118.3" width="81.2" height="124.4" fill="#ffffff" stroke="#7a7a7a" stroke-width="1.1"/>
<line x1="50.2" y1="126.8" x2="62" y2="126.8" stroke="#1d9ad6" stroke-width="1.6"/>
<text x="63" y="129.4" font-family="'Liberation Serif', 'Times New Roman', serif" font-size="8.2" text-anchor="start" fill="#1a1a1a" stroke="#1a1a1a" stroke-width="0.2" letter-spacing="0.06">X8HC-2512.1 m</text>
<line x1="50.2" y1="138.9" x2="62" y2="138.9" stroke="#f39224" stroke-width="1.6"/>
<text x="63" y="141.5" font-family="'Liberation Serif', 'Times New Roman', serif" font-size="8.2" text-anchor="start" fill="#1a1a1a" stroke="#1a1a1a" stroke-width="0.2" letter-spacing="0.06">X8HC-2473.23 m</text>
<line x1="50.2" y1="151" x2="62" y2="151" stroke="#e23a94" stroke-width="1.6"/>
<text x="63" y="153.6" font-family="'Liberation Serif', 'Times New Roman', serif" font-size="8.2" text-anchor="start" fill="#1a1a1a" stroke="#1a1a1a" stroke-width="0.2" letter-spacing="0.06">X8HC-2477.1 m</text>
<line x1="50.2" y1="163.1" x2="62" y2="163.1" stroke="#f2b134" stroke-width="1.6"/>
<text x="63" y="165.7" font-family="'Liberation Serif', 'Times New Roman', serif" font-size="8.2" text-anchor="start" fill="#1a1a1a" stroke="#1a1a1a" stroke-width="0.2" letter-spacing="0.06">X8HC-2505.12 m</text>
<line x1="50.2" y1="175.2" x2="62" y2="175.2" stroke="#5b9ccc" stroke-width="1.6"/>
<text x="63" y="177.8" font-family="'Liberation Serif', 'Times New Roman', serif" font-size="8.2" text-anchor="start" fill="#1a1a1a" stroke="#1a1a1a" stroke-width="0.2" letter-spacing="0.06">X8HC-2471.1 m</text>
<line x1="50.2" y1="187.3" x2="62" y2="187.3" stroke="#4a9e44" stroke-width="1.6"/>
<text x="63" y="189.9" font-family="'Liberation Serif', 'Times New Roman', serif" font-size="8.2" text-anchor="start" fill="#1a1a1a" stroke="#1a1a1a" stroke-width="0.2" letter-spacing="0.06">X8HC-2479.1 m</text>
<line x1="50.2" y1="199.4" x2="62" y2="199.4" stroke="#86a6dc" stroke-width="1.6"/>
<text x="63" y="202" font-family="'Liberation Serif', 'Times New Roman', serif" font-size="8.2" text-anchor="start" fill="#1a1a1a" stroke="#1a1a1a" stroke-width="0.2" letter-spacing="0.06">X3HC-2488.6 m</text>
<line x1="50.2" y1="211.5" x2="62" y2="211.5" stroke="#f5a088" stroke-width="1.6"/>
<text x="63" y="214.1" font-family="'Liberation Serif', 'Times New Roman', serif" font-size="8.2" text-anchor="start" fill="#1a1a1a" stroke="#1a1a1a" stroke-width="0.2" letter-spacing="0.06">X3HC-2490.5 m</text>
<line x1="50.2" y1="223.6" x2="62" y2="223.6" stroke="#bdbdbd" stroke-width="1.6"/>
<text x="63" y="226.2" font-family="'Liberation Serif', 'Times New Roman', serif" font-size="8.2" text-anchor="start" fill="#1a1a1a" stroke="#1a1a1a" stroke-width="0.2" letter-spacing="0.06">X3HC-2491.7 m</text>
<line x1="50.2" y1="235.7" x2="62" y2="235.7" stroke="#f8c98c" stroke-width="1.6"/>
<text x="63" y="238.3" font-family="'Liberation Serif', 'Times New Roman', serif" font-size="8.2" text-anchor="start" fill="#1a1a1a" stroke="#1a1a1a" stroke-width="0.2" letter-spacing="0.06">X3HC-2493.45 m</text>
<rect x="42.6" y="278" width="192.6" height="243" fill="#ffffff"/>
<line x1="42.6" y1="508.5" x2="235.2" y2="508.5" stroke="#d5e8c2" stroke-width="1"/>
<line x1="42.6" y1="501.5" x2="235.2" y2="501.5" stroke="#d5e8c2" stroke-width="1"/>
<line x1="42.6" y1="496.5" x2="235.2" y2="496.5" stroke="#d5e8c2" stroke-width="1"/>
<line x1="42.6" y1="492.5" x2="235.2" y2="492.5" stroke="#d5e8c2" stroke-width="1"/>
<line x1="42.6" y1="489.5" x2="235.2" y2="489.5" stroke="#d5e8c2" stroke-width="1"/>
<line x1="42.6" y1="486.5" x2="235.2" y2="486.5" stroke="#d5e8c2" stroke-width="1"/>
<line x1="42.6" y1="484.5" x2="235.2" y2="484.5" stroke="#d5e8c2" stroke-width="1"/>
<line x1="42.6" y1="482.5" x2="235.2" y2="482.5" stroke="#d5e8c2" stroke-width="1"/>
<line x1="42.6" y1="468.5" x2="235.2" y2="468.5" stroke="#d5e8c2" stroke-width="1"/>
<line x1="42.6" y1="461.5" x2="235.2" y2="461.5" stroke="#d5e8c2" stroke-width="1"/>
<line x1="42.6" y1="456.5" x2="235.2" y2="456.5" stroke="#d5e8c2" stroke-width="1"/>
<line x1="42.6" y1="452.5" x2="235.2" y2="452.5" stroke="#d5e8c2" stroke-width="1"/>
<line x1="42.6" y1="448.5" x2="235.2" y2="448.5" stroke="#d5e8c2" stroke-width="1"/>
<line x1="42.6" y1="446.5" x2="235.2" y2="446.5" stroke="#d5e8c2" stroke-width="1"/>
<line x1="42.6" y1="443.5" x2="235.2" y2="443.5" stroke="#d5e8c2" stroke-width="1"/>
<line x1="42.6" y1="441.5" x2="235.2" y2="441.5" stroke="#d5e8c2" stroke-width="1"/>
<line x1="42.6" y1="427.5" x2="235.2" y2="427.5" stroke="#d5e8c2" stroke-width="1"/>
<line x1="42.6" y1="420.5" x2="235.2" y2="420.5" stroke="#d5e8c2" stroke-width="1"/>
<line x1="42.6" y1="415.5" x2="235.2" y2="415.5" stroke="#d5e8c2" stroke-width="1"/>
<line x1="42.6" y1="411.5" x2="235.2" y2="411.5" stroke="#d5e8c2" stroke-width="1"/>
<line x1="42.6" y1="408.5" x2="235.2" y2="408.5" stroke="#d5e8c2" stroke-width="1"/>
<line x1="42.6" y1="405.5" x2="235.2" y2="405.5" stroke="#d5e8c2" stroke-width="1"/>
<line x1="42.6" y1="403.5" x2="235.2" y2="403.5" stroke="#d5e8c2" stroke-width="1"/>
<line x1="42.6" y1="401.5" x2="235.2" y2="401.5" stroke="#d5e8c2" stroke-width="1"/>
<line x1="42.6" y1="387.5" x2="235.2" y2="387.5" stroke="#d5e8c2" stroke-width="1"/>
<line x1="42.6" y1="380.5" x2="235.2" y2="380.5" stroke="#d5e8c2" stroke-width="1"/>
<line x1="42.6" y1="375.5" x2="235.2" y2="375.5" stroke="#d5e8c2" stroke-width="1"/>
<line x1="42.6" y1="371.5" x2="235.2" y2="371.5" stroke="#d5e8c2" stroke-width="1"/>
<line x1="42.6" y1="367.5" x2="235.2" y2="367.5" stroke="#d5e8c2" stroke-width="1"/>
<line x1="42.6" y1="365.5" x2="235.2" y2="365.5" stroke="#d5e8c2" stroke-width="1"/>
<line x1="42.6" y1="362.5" x2="235.2" y2="362.5" stroke="#d5e8c2" stroke-width="1"/>
<line x1="42.6" y1="360.5" x2="235.2" y2="360.5" stroke="#d5e8c2" stroke-width="1"/>
<line x1="42.6" y1="346.5" x2="235.2" y2="346.5" stroke="#d5e8c2" stroke-width="1"/>
<line x1="42.6" y1="339.5" x2="235.2" y2="339.5" stroke="#d5e8c2" stroke-width="1"/>
<line x1="42.6" y1="334.5" x2="235.2" y2="334.5" stroke="#d5e8c2" stroke-width="1"/>
<line x1="42.6" y1="330.5" x2="235.2" y2="330.5" stroke="#d5e8c2" stroke-width="1"/>
<line x1="42.6" y1="327.5" x2="235.2" y2="327.5" stroke="#d5e8c2" stroke-width="1"/>
<line x1="42.6" y1="324.5" x2="235.2" y2="324.5" stroke="#d5e8c2" stroke-width="1"/>
<line x1="42.6" y1="322.5" x2="235.2" y2="322.5" stroke="#d5e8c2" stroke-width="1"/>
<line x1="42.6" y1="320.5" x2="235.2" y2="320.5" stroke="#d5e8c2" stroke-width="1"/>
<line x1="42.6" y1="306.5" x2="235.2" y2="306.5" stroke="#d3e7bf" stroke-width="1"/>
<line x1="42.6" y1="299.5" x2="235.2" y2="299.5" stroke="#dfedd0" stroke-width="1"/>
<line x1="42.6" y1="294.5" x2="235.2" y2="294.5" stroke="#ecf4e4" stroke-width="1"/>
<line x1="42.6" y1="290.5" x2="235.2" y2="290.5" stroke="#ecf4e4" stroke-width="1"/>
<line x1="42.6" y1="286.5" x2="235.2" y2="286.5" stroke="#ecf4e4" stroke-width="1"/>
<line x1="42.6" y1="284.5" x2="235.2" y2="284.5" stroke="#ecf4e4" stroke-width="1"/>
<line x1="42.6" y1="281.5" x2="235.2" y2="281.5" stroke="#ecf4e4" stroke-width="1"/>
<line x1="42.6" y1="279.5" x2="235.2" y2="279.5" stroke="#ecf4e4" stroke-width="1"/>
<line x1="215.5" y1="278" x2="215.5" y2="521" stroke="#ababab" stroke-width="1"/>
<line x1="196.5" y1="278" x2="196.5" y2="521" stroke="#ababab" stroke-width="1"/>
<line x1="177.5" y1="278" x2="177.5" y2="521" stroke="#ababab" stroke-width="1"/>
<line x1="158.5" y1="278" x2="158.5" y2="521" stroke="#ababab" stroke-width="1"/>
<line x1="138.5" y1="278" x2="138.5" y2="521" stroke="#ababab" stroke-width="1"/>
<line x1="119.5" y1="278" x2="119.5" y2="521" stroke="#ababab" stroke-width="1"/>
<line x1="100.5" y1="278" x2="100.5" y2="521" stroke="#ababab" stroke-width="1"/>
<line x1="81.5" y1="278" x2="81.5" y2="521" stroke="#ababab" stroke-width="1"/>
<line x1="61.5" y1="278" x2="61.5" y2="521" stroke="#ababab" stroke-width="1"/>
<line x1="42.6" y1="480.5" x2="235.2" y2="480.5" stroke="#a49ca6" stroke-width="1.1"/>
<line x1="42.6" y1="440.5" x2="235.2" y2="440.5" stroke="#d6e6c8" stroke-width="1"/>
<line x1="42.6" y1="399.5" x2="235.2" y2="399.5" stroke="#9a9a9a" stroke-width="1.1"/>
<line x1="42.6" y1="359.5" x2="235.2" y2="359.5" stroke="#8f8f8f" stroke-width="1.1"/>
<line x1="42.6" y1="318.5" x2="235.2" y2="318.5" stroke="#8c8c8c" stroke-width="1.1"/>
<line x1="42.6" y1="521" x2="45.1" y2="521" stroke="#333" stroke-width="0.9"/>
<line x1="42.6" y1="508.81" x2="44.4" y2="508.81" stroke="#333" stroke-width="0.9"/>
<line x1="42.6" y1="501.68" x2="44.4" y2="501.68" stroke="#333" stroke-width="0.9"/>
<line x1="42.6" y1="496.62" x2="44.4" y2="496.62" stroke="#333" stroke-width="0.9"/>
<line x1="42.6" y1="492.69" x2="44.4" y2="492.69" stroke="#333" stroke-width="0.9"/>
<line x1="42.6" y1="489.48" x2="44.4" y2="489.48" stroke="#333" stroke-width="0.9"/>
<line x1="42.6" y1="486.77" x2="44.4" y2="486.77" stroke="#333" stroke-width="0.9"/>
<line x1="42.6" y1="484.42" x2="44.4" y2="484.42" stroke="#333" stroke-width="0.9"/>
<line x1="42.6" y1="482.35" x2="44.4" y2="482.35" stroke="#333" stroke-width="0.9"/>
<line x1="42.6" y1="480.5" x2="45.1" y2="480.5" stroke="#333" stroke-width="0.9"/>
<line x1="42.6" y1="468.31" x2="44.4" y2="468.31" stroke="#333" stroke-width="0.9"/>
<line x1="42.6" y1="461.18" x2="44.4" y2="461.18" stroke="#333" stroke-width="0.9"/>
<line x1="42.6" y1="456.12" x2="44.4" y2="456.12" stroke="#333" stroke-width="0.9"/>
<line x1="42.6" y1="452.19" x2="44.4" y2="452.19" stroke="#333" stroke-width="0.9"/>
<line x1="42.6" y1="448.98" x2="44.4" y2="448.98" stroke="#333" stroke-width="0.9"/>
<line x1="42.6" y1="446.27" x2="44.4" y2="446.27" stroke="#333" stroke-width="0.9"/>
<line x1="42.6" y1="443.92" x2="44.4" y2="443.92" stroke="#333" stroke-width="0.9"/>
<line x1="42.6" y1="441.85" x2="44.4" y2="441.85" stroke="#333" stroke-width="0.9"/>
<line x1="42.6" y1="440" x2="45.1" y2="440" stroke="#333" stroke-width="0.9"/>
<line x1="42.6" y1="427.81" x2="44.4" y2="427.81" stroke="#333" stroke-width="0.9"/>
<line x1="42.6" y1="420.68" x2="44.4" y2="420.68" stroke="#333" stroke-width="0.9"/>
<line x1="42.6" y1="415.62" x2="44.4" y2="415.62" stroke="#333" stroke-width="0.9"/>
<line x1="42.6" y1="411.69" x2="44.4" y2="411.69" stroke="#333" stroke-width="0.9"/>
<line x1="42.6" y1="408.48" x2="44.4" y2="408.48" stroke="#333" stroke-width="0.9"/>
<line x1="42.6" y1="405.77" x2="44.4" y2="405.77" stroke="#333" stroke-width="0.9"/>
<line x1="42.6" y1="403.42" x2="44.4" y2="403.42" stroke="#333" stroke-width="0.9"/>
<line x1="42.6" y1="401.35" x2="44.4" y2="401.35" stroke="#333" stroke-width="0.9"/>
<line x1="42.6" y1="399.5" x2="45.1" y2="399.5" stroke="#333" stroke-width="0.9"/>
<line x1="42.6" y1="387.31" x2="44.4" y2="387.31" stroke="#333" stroke-width="0.9"/>
<line x1="42.6" y1="380.18" x2="44.4" y2="380.18" stroke="#333" stroke-width="0.9"/>
<line x1="42.6" y1="375.12" x2="44.4" y2="375.12" stroke="#333" stroke-width="0.9"/>
<line x1="42.6" y1="371.19" x2="44.4" y2="371.19" stroke="#333" stroke-width="0.9"/>
<line x1="42.6" y1="367.98" x2="44.4" y2="367.98" stroke="#333" stroke-width="0.9"/>
<line x1="42.6" y1="365.27" x2="44.4" y2="365.27" stroke="#333" stroke-width="0.9"/>
<line x1="42.6" y1="362.92" x2="44.4" y2="362.92" stroke="#333" stroke-width="0.9"/>
<line x1="42.6" y1="360.85" x2="44.4" y2="360.85" stroke="#333" stroke-width="0.9"/>
<line x1="42.6" y1="359" x2="45.1" y2="359" stroke="#333" stroke-width="0.9"/>
<line x1="42.6" y1="346.81" x2="44.4" y2="346.81" stroke="#333" stroke-width="0.9"/>
<line x1="42.6" y1="339.68" x2="44.4" y2="339.68" stroke="#333" stroke-width="0.9"/>
<line x1="42.6" y1="334.62" x2="44.4" y2="334.62" stroke="#333" stroke-width="0.9"/>
<line x1="42.6" y1="330.69" x2="44.4" y2="330.69" stroke="#333" stroke-width="0.9"/>
<line x1="42.6" y1="327.48" x2="44.4" y2="327.48" stroke="#333" stroke-width="0.9"/>
<line x1="42.6" y1="324.77" x2="44.4" y2="324.77" stroke="#333" stroke-width="0.9"/>
<line x1="42.6" y1="322.42" x2="44.4" y2="322.42" stroke="#333" stroke-width="0.9"/>
<line x1="42.6" y1="320.35" x2="44.4" y2="320.35" stroke="#333" stroke-width="0.9"/>
<line x1="42.6" y1="318.5" x2="45.1" y2="318.5" stroke="#333" stroke-width="0.9"/>
<line x1="42.6" y1="306.31" x2="44.4" y2="306.31" stroke="#333" stroke-width="0.9"/>
<line x1="42.6" y1="299.18" x2="44.4" y2="299.18" stroke="#333" stroke-width="0.9"/>
<line x1="42.6" y1="294.12" x2="44.4" y2="294.12" stroke="#333" stroke-width="0.9"/>
<line x1="42.6" y1="290.19" x2="44.4" y2="290.19" stroke="#333" stroke-width="0.9"/>
<line x1="42.6" y1="286.98" x2="44.4" y2="286.98" stroke="#333" stroke-width="0.9"/>
<line x1="42.6" y1="284.27" x2="44.4" y2="284.27" stroke="#333" stroke-width="0.9"/>
<line x1="42.6" y1="281.92" x2="44.4" y2="281.92" stroke="#333" stroke-width="0.9"/>
<line x1="42.6" y1="279.85" x2="44.4" y2="279.85" stroke="#333" stroke-width="0.9"/>
<path d="M234.8,485 C234.53,484.03 234,482.72 233.2,479.2 C232.4,475.68 230.9,468.27 230,463.9 C229.1,459.53 228.33,456.98 227.8,453 C227.27,449.02 227,444.67 226.8,440 C226.6,435.33 226.63,429.33 226.6,425 C226.57,420.67 226.6,418.17 226.6,414 C226.6,409.83 226.78,404.83 226.6,400 C226.42,395.17 225.85,390 225.5,385 C225.15,380 224.82,375.03 224.5,370 C224.18,364.97 224.13,359.82 223.6,354.8 C223.07,349.78 222.18,343.13 221.3,339.9 C220.42,336.67 219.8,336.9 218.3,335.4 C216.8,333.9 214.78,332.4 212.3,330.9 C209.82,329.4 207.13,328.15 203.4,326.4 C199.67,324.65 194.63,322.02 189.9,320.4 C185.17,318.78 179.98,317.82 175,316.7 C170.02,315.58 165.83,314.73 160,313.7 C154.17,312.67 146.67,311.48 140,310.5 C133.33,309.52 126.13,308.58 120,307.8 C113.87,307.02 106,306.13 103.2,305.8" fill="none" stroke="#f39224" stroke-width="1.6" stroke-linejoin="round" stroke-linecap="round"/>
<path d="M234.8,485 C234.53,484.03 234,482.72 233.2,479.2 C232.4,475.68 230.9,468.27 230,463.9 C229.1,459.53 228.33,456.98 227.8,453 C227.27,449.02 227,444.67 226.8,440 C226.6,435.33 226.63,429.33 226.6,425 C226.57,420.67 226.6,418.17 226.6,414 C226.6,409.83 226.77,404.42 226.6,400 C226.43,395.58 226.32,392.5 225.6,387.5 C224.88,382.5 223.38,374.95 222.3,370 C221.22,365.05 220.27,362.08 219.1,357.8 C217.93,353.52 216.93,348.03 215.3,344.3 C213.67,340.57 211.78,338.38 209.3,335.4 C206.82,332.42 203.63,329.15 200.4,326.4 C197.17,323.65 194.13,320.9 189.9,318.9 C185.67,316.9 179.98,315.52 175,314.4 C170.02,313.28 165.83,313.02 160,312.2 C154.17,311.38 147.22,310.57 140,309.5 C132.78,308.43 120.58,306.42 116.7,305.8" fill="none" stroke="#4a9e44" stroke-width="1.5" stroke-linejoin="round" stroke-linecap="round"/>
<path d="M234.8,485 C234.55,484.03 234.06,482.72 233.33,479.2 C232.59,475.68 231.24,468.27 230.4,463.9 C229.56,459.53 228.82,456.98 228.29,453 C227.77,449.02 227.5,444.67 227.26,440 C227.01,435.33 226.94,429.33 226.83,425 C226.72,420.67 226.81,415.88 226.6,414 C226.39,412.12 226.87,415.57 225.6,413.7 C224.33,411.83 221.18,407.17 219,402.8 C216.82,398.43 214.32,392.97 212.5,387.5 C210.68,382.03 209.12,374.95 208.1,370 C207.08,365.05 207.68,362.82 206.4,357.8 C205.12,352.78 202.65,345.13 200.4,339.9 C198.15,334.67 195.9,329.9 192.9,326.4 C189.9,322.9 186.38,321.15 182.4,318.9 C178.42,316.65 172.73,314.3 169,312.9 C165.27,311.5 164,311.32 160,310.5 C156,309.68 149.35,308.78 145,308 C140.65,307.22 135.75,306.17 133.9,305.8" fill="none" stroke="#e23a94" stroke-width="1.6" stroke-linejoin="round" stroke-linecap="round"/>
<path d="M234.8,485 C234.57,484.03 234.11,482.72 233.43,479.2 C232.75,475.68 231.51,468.27 230.72,463.9 C229.93,459.53 229.21,456.98 228.69,453 C228.17,449.02 227.9,444.67 227.62,440 C227.34,435.33 227.19,429.33 227.02,425 C226.85,420.67 226.67,417.33 226.6,414 C226.53,410.67 226.7,409 226.6,405 C226.5,401 226.35,395.5 226,390 C225.65,384.5 225.17,377.33 224.5,372 C223.83,366.67 223.17,362.33 222,358 C220.83,353.67 219.17,349 217.5,346 C215.83,343 214.08,342.17 212,340 C209.92,337.83 207.83,335.67 205,333 C202.17,330.33 199.17,327.17 195,324 C190.83,320.83 185,316.58 180,314 C175,311.42 169.25,309.83 165,308.5 C160.75,307.17 156.25,306.42 154.5,306" fill="none" stroke="#86a6dc" stroke-width="1.3" stroke-linejoin="round" stroke-linecap="round"/>
<path d="M234.8,485 C234.5,484.03 233.9,482.72 233,479.2 C232.09,475.68 230.35,468.27 229.36,463.9 C228.36,459.53 227.56,456.98 227.01,453 C226.46,449.02 226.2,444.67 226.07,440 C225.94,435.33 226.14,429.33 226.23,425 C226.31,420.67 226.54,417.83 226.6,414 C226.66,410.17 226.78,406 226.6,402 C226.42,398 226.1,394.5 225.5,390 C224.9,385.5 224.08,380 223,375 C221.92,370 220.67,364.5 219,360 C217.33,355.5 215.33,352 213,348 C210.67,344 208,339.75 205,336 C202,332.25 199.17,328.92 195,325.5 C190.83,322.08 185,318.25 180,315.5 C175,312.75 169.82,310.62 165,309 C160.18,307.38 153.42,306.33 151.1,305.8" fill="none" stroke="#5b9ccc" stroke-width="1.4" stroke-linejoin="round" stroke-linecap="round"/>
<path d="M234.8,485 C234.53,484.03 234,482.72 233.2,479.2 C232.4,475.68 230.9,468.27 230,463.9 C229.1,459.53 228.33,456.98 227.8,453 C227.27,449.02 227,444.67 226.8,440 C226.6,435.33 226.63,429.33 226.6,425 C226.57,420.67 226.58,417.7 226.6,414 C226.62,410.3 227.05,406.5 226.7,402.8 C226.35,399.1 225.78,395.45 224.5,391.8 C223.22,388.15 220.45,384.53 219,380.9 C217.55,377.27 216.42,373.35 215.8,370 C215.18,366.65 216.13,364.33 215.3,360.8 C214.47,357.27 212.53,352.78 210.8,348.8 C209.07,344.82 207.38,340.88 204.9,336.9 C202.42,332.92 199.65,328.4 195.9,324.9 C192.15,321.4 186.72,318.05 182.4,315.9 C178.08,313.75 173.73,312.95 170,312 C166.27,311.05 164.17,310.87 160,310.2 C155.83,309.53 150.48,308.73 145,308 C139.52,307.27 130.08,306.17 127.1,305.8" fill="none" stroke="#1d9ad6" stroke-width="1.9" stroke-linejoin="round" stroke-linecap="round"/>
<path d="M154.5,306 C156.42,307.65 162.08,310.75 166,315.9 C169.92,321.05 174.77,329.92 178,336.9 C181.23,343.88 183.92,351.45 185.4,357.8 C186.88,364.15 186.47,368.8 186.9,375 C187.33,381.2 187.57,388.33 188,395 C188.43,401.67 189.12,408.53 189.5,415 C189.88,421.47 190.17,430.67 190.3,433.8" fill="none" stroke="#86a6dc" stroke-width="1.3" stroke-linejoin="round" stroke-linecap="round"/>
<path d="M151.1,305.8 C152.72,307.62 156.93,311.77 160.8,316.7 C164.67,321.63 170.7,329.05 174.3,335.4 C177.9,341.75 180.55,348.2 182.4,354.8 C184.25,361.4 184.7,368.3 185.4,375 C186.1,381.7 186.12,388.33 186.6,395 C187.08,401.67 187.83,408.53 188.3,415 C188.77,421.47 189.22,430.67 189.4,433.8" fill="none" stroke="#5b9ccc" stroke-width="1.4" stroke-linejoin="round" stroke-linecap="round"/>
<path d="M133.9,305.8 C134.65,306.73 135.92,307.72 138.4,311.4 C140.88,315.08 145.43,321.92 148.8,327.9 C152.17,333.88 156.23,341.82 158.6,347.3 C160.97,352.78 161.98,356.18 163,360.8 C164.02,365.42 164.12,369.3 164.7,375 C165.28,380.7 165.87,387.83 166.5,395 C167.13,402.17 167.9,411.53 168.5,418 C169.1,424.47 169.83,431.17 170.1,433.8" fill="none" stroke="#e23a94" stroke-width="1.6" stroke-linejoin="round" stroke-linecap="round"/>
<path d="M127.1,305.8 C127.98,306.98 129.53,308.72 132.4,312.9 C135.27,317.08 140.57,324.67 144.3,330.9 C148.03,337.13 152.42,344.82 154.8,350.3 C157.18,355.78 157.72,359.68 158.6,363.8 C159.48,367.92 159.6,369.3 160.1,375 C160.6,380.7 161.12,390.83 161.6,398 C162.08,405.17 162.58,412.03 163,418 C163.42,423.97 163.92,431.17 164.1,433.8" fill="none" stroke="#1d9ad6" stroke-width="1.9" stroke-linejoin="round" stroke-linecap="round"/>
<path d="M116.7,305.8 C117.45,306.73 119.08,308.22 121.2,311.4 C123.32,314.58 126.53,320.65 129.4,324.9 C132.27,329.15 135.92,333.17 138.4,336.9 C140.88,340.63 142.68,343.57 144.3,347.3 C145.92,351.03 147.18,354.68 148.1,359.3 C149.02,363.92 149.27,369.05 149.8,375 C150.33,380.95 150.8,388.33 151.3,395 C151.8,401.67 152.33,408.53 152.8,415 C153.27,421.47 153.88,430.67 154.1,433.8" fill="none" stroke="#4a9e44" stroke-width="1.5" stroke-linejoin="round" stroke-linecap="round"/>
<path d="M103.4,306 C103.67,306.47 104.45,307.87 105,308.8 C105.55,309.73 105.95,310.32 106.7,311.6 C107.45,312.88 108.53,314.8 109.5,316.5 C110.47,318.2 110.78,318.98 112.5,321.8 C114.22,324.62 117.62,329.77 119.8,333.4 C121.98,337.03 123.9,340.45 125.6,343.6 C127.3,346.75 128.9,349.63 130,352.3 C131.1,354.97 131.6,356.68 132.2,359.6 C132.8,362.52 133.12,366.4 133.6,369.8 C134.08,373.2 134.62,375.55 135.1,380 C135.58,384.45 135.93,390.67 136.5,396.5 C137.07,402.33 137.82,408.78 138.5,415 C139.18,421.22 140.25,430.67 140.6,433.8" fill="none" stroke="#f39224" stroke-width="1.6" stroke-linejoin="round" stroke-linecap="round"/>
<rect x="42.6" y="278" width="192.6" height="243" fill="none" stroke="#4d4d4d" stroke-width="1.3"/>
<text x="39.8" y="285.03" font-family="'Liberation Sans', Arial, sans-serif" font-size="9.3" text-anchor="end" fill="#2e2e2e" stroke="#2e2e2e" stroke-width="0.2">1000</text>
<text x="39.8" y="324.03" font-family="'Liberation Sans', Arial, sans-serif" font-size="9.3" text-anchor="end" fill="#2e2e2e" stroke="#2e2e2e" stroke-width="0.2">100</text>
<text x="39.8" y="363.73" font-family="'Liberation Sans', Arial, sans-serif" font-size="9.3" text-anchor="end" fill="#2e2e2e" stroke="#2e2e2e" stroke-width="0.2">10</text>
<text x="39.8" y="404.33" font-family="'Liberation Sans', Arial, sans-serif" font-size="9.3" text-anchor="end" fill="#2e2e2e" stroke="#2e2e2e" stroke-width="0.2">1</text>
<text x="39.8" y="443.83" font-family="'Liberation Sans', Arial, sans-serif" font-size="9.3" text-anchor="end" fill="#2e2e2e" stroke="#2e2e2e" stroke-width="0.2">0.1</text>
<text x="39.8" y="484.33" font-family="'Liberation Sans', Arial, sans-serif" font-size="9.3" text-anchor="end" fill="#2e2e2e" stroke="#2e2e2e" stroke-width="0.2">0.01</text>
<text x="39.8" y="523.13" font-family="'Liberation Sans', Arial, sans-serif" font-size="9.3" text-anchor="end" fill="#2e2e2e" stroke="#2e2e2e" stroke-width="0.2">0.001</text>
<text x="44.2" y="530.7" font-family="'Liberation Sans', Arial, sans-serif" font-size="9.3" text-anchor="middle" fill="#2e2e2e" stroke="#2e2e2e" stroke-width="0.2">100</text>
<text x="61.86" y="530.7" font-family="'Liberation Sans', Arial, sans-serif" font-size="9.3" text-anchor="middle" fill="#2e2e2e" stroke="#2e2e2e" stroke-width="0.2">90</text>
<text x="81.12" y="530.7" font-family="'Liberation Sans', Arial, sans-serif" font-size="9.3" text-anchor="middle" fill="#2e2e2e" stroke="#2e2e2e" stroke-width="0.2">80</text>
<text x="100.38" y="530.7" font-family="'Liberation Sans', Arial, sans-serif" font-size="9.3" text-anchor="middle" fill="#2e2e2e" stroke="#2e2e2e" stroke-width="0.2">70</text>
<text x="119.64" y="530.7" font-family="'Liberation Sans', Arial, sans-serif" font-size="9.3" text-anchor="middle" fill="#2e2e2e" stroke="#2e2e2e" stroke-width="0.2">60</text>
<text x="138.9" y="530.7" font-family="'Liberation Sans', Arial, sans-serif" font-size="9.3" text-anchor="middle" fill="#2e2e2e" stroke="#2e2e2e" stroke-width="0.2">50</text>
<text x="158.16" y="530.7" font-family="'Liberation Sans', Arial, sans-serif" font-size="9.3" text-anchor="middle" fill="#2e2e2e" stroke="#2e2e2e" stroke-width="0.2">40</text>
<text x="177.42" y="530.7" font-family="'Liberation Sans', Arial, sans-serif" font-size="9.3" text-anchor="middle" fill="#2e2e2e" stroke="#2e2e2e" stroke-width="0.2">30</text>
<text x="196.68" y="530.7" font-family="'Liberation Sans', Arial, sans-serif" font-size="9.3" text-anchor="middle" fill="#2e2e2e" stroke="#2e2e2e" stroke-width="0.2">20</text>
<text x="215.94" y="530.7" font-family="'Liberation Sans', Arial, sans-serif" font-size="9.3" text-anchor="middle" fill="#2e2e2e" stroke="#2e2e2e" stroke-width="0.2">10</text>
<text x="235.2" y="530.7" font-family="'Liberation Sans', Arial, sans-serif" font-size="9.3" text-anchor="middle" fill="#2e2e2e" stroke="#2e2e2e" stroke-width="0.2">0</text>
<text x="83.7" y="542.6" font-family="'Liberation Sans', Arial, sans-serif" font-size="9.7" fill="#2e2e2e" stroke="#2e2e2e" stroke-width="0.2">Mercury saturation S<tspan font-size="4.6" dy="1.7">Hg</tspan><tspan dy="-1.7"> (%)</tspan></text>
<text transform="translate(21.6,396.8) rotate(-90)" font-family="'Liberation Sans', Arial, sans-serif" font-size="9.6" text-anchor="middle" fill="#2e2e2e" stroke="#2e2e2e" stroke-width="0.2">Capillary pressure Pc (Mpa)</text>
<rect x="3.1" y="281.1" width="15.5" height="14.6" fill="#ffffff" stroke="#6a6a6a" stroke-width="1"/>
<text x="10.85" y="293.5" font-family="'Liberation Sans', Arial, sans-serif" font-size="15.8" text-anchor="middle" fill="#1a1a1a" stroke="#1a1a1a" stroke-width="0.2">C</text>
<rect x="50.3" y="439.7" width="81.5" height="77.2" fill="#ffffff" stroke="#7a7a7a" stroke-width="1.1"/>
<line x1="55.1" y1="447.2" x2="66.9" y2="447.2" stroke="#1d9ad6" stroke-width="1.6"/>
<text x="67.9" y="449.8" font-family="'Liberation Serif', 'Times New Roman', serif" font-size="8.5" text-anchor="start" fill="#1a1a1a" stroke="#1a1a1a" stroke-width="0.2" letter-spacing="0.06">X8HC-2510.1 m</text>
<line x1="55.1" y1="459.3" x2="66.9" y2="459.3" stroke="#f39224" stroke-width="1.6"/>
<text x="67.9" y="461.9" font-family="'Liberation Serif', 'Times New Roman', serif" font-size="8.5" text-anchor="start" fill="#1a1a1a" stroke="#1a1a1a" stroke-width="0.2" letter-spacing="0.06">X8HC-2516.1 m</text>
<line x1="55.1" y1="470.6" x2="66.9" y2="470.6" stroke="#e23a94" stroke-width="1.6"/>
<text x="67.9" y="473.2" font-family="'Liberation Serif', 'Times New Roman', serif" font-size="8.5" text-anchor="start" fill="#1a1a1a" stroke="#1a1a1a" stroke-width="0.2" letter-spacing="0.06">X8HC-2487.1 m</text>
<line x1="55.1" y1="483.6" x2="66.9" y2="483.6" stroke="#5b9ccc" stroke-width="1.6"/>
<text x="67.9" y="486.2" font-family="'Liberation Serif', 'Times New Roman', serif" font-size="8.5" text-anchor="start" fill="#1a1a1a" stroke="#1a1a1a" stroke-width="0.2" letter-spacing="0.06">X8HC-2501.24 m</text>
<line x1="55.1" y1="496" x2="66.9" y2="496" stroke="#4a9e44" stroke-width="1.6"/>
<text x="67.9" y="498.6" font-family="'Liberation Serif', 'Times New Roman', serif" font-size="8.5" text-anchor="start" fill="#1a1a1a" stroke="#1a1a1a" stroke-width="0.2" letter-spacing="0.06">X8HC-2497.1 m</text>
<line x1="55.1" y1="509.2" x2="66.9" y2="509.2" stroke="#9fb8e0" stroke-width="1.6"/>
<text x="67.9" y="511.8" font-family="'Liberation Serif', 'Times New Roman', serif" font-size="8.5" text-anchor="start" fill="#1a1a1a" stroke="#1a1a1a" stroke-width="0.2" letter-spacing="0.06">X3HC-2460.0 m</text>
<rect x="267.5" y="50.7" width="262" height="188.8" fill="#ffffff"/>
<line x1="267.5" y1="201.74" x2="529.5" y2="201.74" stroke="#d3e7c2" stroke-width="1"/>
<line x1="267.5" y1="163.98" x2="529.5" y2="163.98" stroke="#d3e7c2" stroke-width="1"/>
<line x1="267.5" y1="126.22" x2="529.5" y2="126.22" stroke="#d8eac8" stroke-width="1"/>
<line x1="267.5" y1="88.46" x2="529.5" y2="88.46" stroke="#edf5e6" stroke-width="1"/>
<path d="M289.5,239.5 C289.92,236.25 291.17,229.92 292,220 C292.83,210.08 293.75,190.5 294.5,180 C295.25,169.5 295.9,161.6 296.5,157 C297.1,152.4 297.55,152.4 298.1,152.4 C298.65,152.4 299.15,152.4 299.8,157 C300.45,161.6 301.22,172.83 302,180 C302.78,187.17 303.58,194.92 304.5,200 C305.42,205.08 306.25,208.25 307.5,210.5 C308.75,212.75 310.25,212.67 312,213.5 C313.75,214.33 316,215 318,215.5 C320,216 322,216.67 324,216.5 C326,216.33 328,215.5 330,214.5 C332,213.5 334.42,211.48 336,210.5 C337.58,209.52 338.45,208.68 339.5,208.6 C340.55,208.52 341.32,207.97 342.3,210 C343.28,212.03 344.53,215.88 345.4,220.8 C346.27,225.72 347.15,236.38 347.5,239.5" fill="none" stroke="#bdbdbd" stroke-width="1.3" stroke-linejoin="round" stroke-linecap="round"/>
<path d="M290.5,239.5 C291,236.58 292.58,228.42 293.5,222 C294.42,215.58 295.17,205.73 296,201 C296.83,196.27 297.75,194.43 298.5,193.6 C299.25,192.77 299.75,194.27 300.5,196 C301.25,197.73 302.08,201.5 303,204 C303.92,206.5 304.93,209.22 306,211 C307.07,212.78 307.73,213.62 309.4,214.7 C311.07,215.78 313.6,216.82 316,217.5 C318.4,218.18 321.3,219.1 323.8,218.8 C326.3,218.5 328.97,216.92 331,215.7 C333.03,214.48 334.63,212.53 336,211.5 C337.37,210.47 338.15,209.65 339.2,209.5 C340.25,209.35 341.27,208.72 342.3,210.6 C343.33,212.48 344.62,217.57 345.4,220.8 C346.18,224.03 346.48,226.88 347,230 C347.52,233.12 348.25,237.92 348.5,239.5" fill="none" stroke="#f5a088" stroke-width="1.3" stroke-linejoin="round" stroke-linecap="round"/>
<path d="M290,239.5 C290.5,236.25 292,227.25 293,220 C294,212.75 295.08,201.27 296,196 C296.92,190.73 297.75,189.07 298.5,188.4 C299.25,187.73 299.75,189.57 300.5,192 C301.25,194.43 302.08,199.67 303,203 C303.92,206.33 304.93,209.72 306,212 C307.07,214.28 307.8,215.4 309.4,216.7 C311,218 313.75,218.92 315.6,219.8 C317.45,220.68 318.8,221.4 320.5,222 C322.2,222.6 323.53,223.25 325.8,223.4 C328.07,223.55 332.03,223.33 334.1,222.9 C336.17,222.47 337,220.63 338.2,220.8 C339.4,220.97 340.28,222.18 341.3,223.9 C342.32,225.62 343.45,228.5 344.3,231.1 C345.15,233.7 346.05,238.1 346.4,239.5" fill="none" stroke="#86a6dc" stroke-width="1.3" stroke-linejoin="round" stroke-linecap="round"/>
<path d="M290,239.5 C290.42,236.25 291.67,229.08 292.5,220 C293.33,210.92 294.25,193.67 295,185 C295.75,176.33 296.45,171.33 297,168 C297.55,164.67 297.8,164.33 298.3,165 C298.8,165.67 299.38,167.83 300,172 C300.62,176.17 301.33,185.42 302,190 C302.67,194.58 303.25,197.53 304,199.5 C304.75,201.47 305.33,201.4 306.5,201.8 C307.67,202.2 309.48,201.82 311,201.9 C312.52,201.98 314.35,201.87 315.6,202.3 C316.85,202.73 317.48,203.63 318.5,204.5 C319.52,205.37 320.65,206.42 321.7,207.5 C322.75,208.58 323.77,209.98 324.8,211 C325.83,212.02 326.7,212.93 327.9,213.6 C329.1,214.27 330.63,214.65 332,215 C333.37,215.35 334.55,215.42 336.1,215.7 C337.65,215.98 339.75,215.85 341.3,216.7 C342.85,217.55 344.4,218.92 345.4,220.8 C346.4,222.68 346.78,224.88 347.3,228 C347.82,231.12 348.3,237.58 348.5,239.5" fill="none" stroke="#f8c98c" stroke-width="1.3" stroke-linejoin="round" stroke-linecap="round"/>
<path d="M289,239.5 C289.5,237.08 291,233.25 292,225 C293,216.75 294.17,198.33 295,190 C295.83,181.67 296.42,177.88 297,175 C297.58,172.12 297.92,172.2 298.5,172.7 C299.08,173.2 299.75,173.95 300.5,178 C301.25,182.05 302.08,191.92 303,197 C303.92,202.08 304.93,205.9 306,208.5 C307.07,211.1 308.4,212.15 309.4,212.6 C310.4,213.05 311.15,211.28 312,211.2 C312.85,211.12 313.4,211.18 314.5,212.1 C315.6,213.02 317.43,215.22 318.6,216.7 C319.77,218.18 320.63,219.97 321.5,221 C322.37,222.03 323.05,223.15 323.8,222.9 C324.55,222.65 325.32,221.05 326,219.5 C326.68,217.95 327.18,216.27 327.9,213.6 C328.62,210.93 329.53,206.07 330.3,203.5 C331.07,200.93 331.8,198.87 332.5,198.2 C333.2,197.53 333.9,198.63 334.5,199.5 C335.1,200.37 335.52,201.32 336.1,203.4 C336.68,205.48 337.48,209.1 338,212 C338.52,214.9 338.75,216.22 339.2,220.8 C339.65,225.38 340.45,236.38 340.7,239.5" fill="none" stroke="#5b9ccc" stroke-width="1.4" stroke-linejoin="round" stroke-linecap="round"/>
<path d="M289.5,239.5 C290,236.58 291.58,230.25 292.5,222 C293.42,213.75 294.25,198.5 295,190 C295.75,181.5 296.42,174.73 297,171 C297.58,167.27 297.95,167.35 298.5,167.6 C299.05,167.85 299.55,168.77 300.3,172.5 C301.05,176.23 302.13,184.42 303,190 C303.87,195.58 304.6,201.75 305.5,206 C306.4,210.25 306.98,213.08 308.4,215.5 C309.82,217.92 311.95,219.1 314,220.5 C316.05,221.9 317.87,222.55 320.7,223.9 C323.53,225.25 327.57,227.22 331,228.6 C334.43,229.98 338.13,231.27 341.3,232.2 C344.47,233.13 347.22,233.63 350,234.2 C352.78,234.77 355.1,235.27 358,235.6 C360.9,235.93 364.9,236.13 367.4,236.2 C369.9,236.27 371.13,236.2 373,236 C374.87,235.8 376.93,235.5 378.6,235 C380.27,234.5 381.75,233.63 383,233 C384.25,232.37 385.1,232.12 386.1,231.2 C387.1,230.28 388.1,229.03 389,227.5 C389.9,225.97 390.7,223.38 391.5,222 C392.3,220.62 393.05,219.28 393.8,219.2 C394.55,219.12 395.13,219.87 396,221.5 C396.87,223.13 398,226.58 399,229 C400,231.42 401.08,234.25 402,236 C402.92,237.75 404.08,238.92 404.5,239.5" fill="none" stroke="#f2b134" stroke-width="1.6" stroke-linejoin="round" stroke-linecap="round"/>
<path d="M290,239.5 C290.42,236.58 291.67,229.92 292.5,222 C293.33,214.08 294.25,200.25 295,192 C295.75,183.75 296.42,176.4 297,172.5 C297.58,168.6 297.95,168.18 298.5,168.6 C299.05,169.02 299.55,170.6 300.3,175 C301.05,179.4 302.13,189.17 303,195 C303.87,200.83 304.63,206.08 305.5,210 C306.37,213.92 307.2,216.37 308.2,218.5 C309.2,220.63 310.27,221.55 311.5,222.8 C312.73,224.05 313.85,224.88 315.6,226 C317.35,227.12 319.6,228.4 322,229.5 C324.4,230.6 327.3,231.78 330,232.6 C332.7,233.42 334.87,233.8 338.2,234.4 C341.53,235 346.03,235.8 350,236.2 C353.97,236.6 358.17,236.7 362,236.8 C365.83,236.9 370,236.93 373,236.8 C376,236.67 378.13,236.3 380,236 C381.87,235.7 382.87,235.42 384.2,235 C385.53,234.58 386.75,234 388,233.5 C389.25,233 390.53,233.25 391.7,232 C392.87,230.75 393.87,229.17 395,226 C396.13,222.83 397.5,216.17 398.5,213 C399.5,209.83 400.32,208.18 401,207 C401.68,205.82 402.02,205.57 402.6,205.9 C403.18,206.23 403.85,206.65 404.5,209 C405.15,211.35 405.75,216 406.5,220 C407.25,224 408.25,229.75 409,233 C409.75,236.25 410.67,238.42 411,239.5" fill="none" stroke="#f39224" stroke-width="1.8" stroke-linejoin="round" stroke-linecap="round"/>
<path d="M305.5,239.5 C306,237.08 307.58,234.92 308.5,225 C309.42,215.08 310.17,196.67 311,180 C311.83,163.33 312.83,137.67 313.5,125 C314.17,112.33 314.58,108.23 315,104 C315.42,99.77 315.63,99.77 316,99.6 C316.37,99.43 316.7,98.77 317.2,103 C317.7,107.23 318.28,115.5 319,125 C319.72,134.5 320.62,151.78 321.5,160 C322.38,168.22 323.38,172.97 324.3,174.3 C325.22,175.63 326.13,170.88 327,168 C327.87,165.12 328.7,159.48 329.5,157 C330.3,154.52 331.13,152.6 331.8,153.1 C332.47,153.6 332.88,153.85 333.5,160 C334.12,166.15 334.83,179.17 335.5,190 C336.17,200.83 336.92,216.75 337.5,225 C338.08,233.25 338.75,237.08 339,239.5" fill="none" stroke="#e23a94" stroke-width="1.8" stroke-linejoin="round" stroke-linecap="round"/>
<path d="M306,239.5 C306.5,238.75 308.08,240.75 309,235 C309.92,229.25 310.75,215.83 311.5,205 C312.25,194.17 312.92,178.33 313.5,170 C314.08,161.67 314.58,158.08 315,155 C315.42,151.92 315.58,151.67 316,151.5 C316.42,151.33 316.92,150.92 317.5,154 C318.08,157.08 318.75,163.67 319.5,170 C320.25,176.33 321.2,187.08 322,192 C322.8,196.92 323.55,199.33 324.3,199.5 C325.05,199.67 325.63,197.08 326.5,193 C327.37,188.92 328.52,179 329.5,175 C330.48,171 331.57,168.5 332.4,169 C333.23,169.5 333.82,172 334.5,178 C335.18,184 335.83,196 336.5,205 C337.17,214 337.92,226.25 338.5,232 C339.08,237.75 339.75,238.25 340,239.5" fill="none" stroke="#1d9ad6" stroke-width="1.9" stroke-linejoin="round" stroke-linecap="round"/>
<path d="M306.5,239.5 C306.83,236.58 307.85,228.58 308.5,222 C309.15,215.42 309.73,210.33 310.4,200 C311.07,189.67 311.82,171.33 312.5,160 C313.18,148.67 313.88,137.78 314.5,132 C315.12,126.22 315.62,125.97 316.2,125.3 C316.78,124.63 317.28,124.72 318,128 C318.72,131.28 319.67,140.08 320.5,145 C321.33,149.92 322.33,155.07 323,157.5 C323.67,159.93 323.83,160.18 324.5,159.6 C325.17,159.02 326.17,156.02 327,154 C327.83,151.98 328.68,148.97 329.5,147.5 C330.32,146.03 331.23,144.95 331.9,145.2 C332.57,145.45 332.93,144.87 333.5,149 C334.07,153.13 334.75,163.17 335.3,170 C335.85,176.83 336.27,182.5 336.8,190 C337.33,197.5 337.9,206.75 338.5,215 C339.1,223.25 340.08,235.42 340.4,239.5" fill="none" stroke="#2f9a4a" stroke-width="1.5" stroke-linejoin="round" stroke-linecap="round"/>
<path d="M267.5,50.7 V239.5 H529.5 V50.7 Z" fill="none" stroke="#333333" stroke-width="1.35"/>
<line x1="268.3" y1="239.3" x2="528.5" y2="239.3" stroke="#f6c070" stroke-width="1.1"/>
<line x1="290" y1="239.3" x2="305.5" y2="239.3" stroke="#3f9a45" stroke-width="1.1"/>
<line x1="340.5" y1="239.3" x2="347" y2="239.3" stroke="#3f9a45" stroke-width="1.1"/>
<line x1="267.5" y1="239.5" x2="270.1" y2="239.5" stroke="#222" stroke-width="1"/>
<text x="265.5" y="240.85" font-family="'Liberation Serif', 'Times New Roman', serif" font-size="9.2" text-anchor="end" fill="#2a2a2a" stroke="#2a2a2a" stroke-width="0.2">0</text>
<line x1="267.5" y1="201.74" x2="270.1" y2="201.74" stroke="#222" stroke-width="1"/>
<text x="265.5" y="202.25" font-family="'Liberation Serif', 'Times New Roman', serif" font-size="9.2" text-anchor="end" fill="#2a2a2a" stroke="#2a2a2a" stroke-width="0.2">10</text>
<line x1="267.5" y1="163.98" x2="270.1" y2="163.98" stroke="#222" stroke-width="1"/>
<text x="265.5" y="164.95" font-family="'Liberation Serif', 'Times New Roman', serif" font-size="9.2" text-anchor="end" fill="#2a2a2a" stroke="#2a2a2a" stroke-width="0.2">20</text>
<line x1="267.5" y1="126.22" x2="270.1" y2="126.22" stroke="#222" stroke-width="1"/>
<text x="265.5" y="128.35" font-family="'Liberation Serif', 'Times New Roman', serif" font-size="9.2" text-anchor="end" fill="#2a2a2a" stroke="#2a2a2a" stroke-width="0.2">30</text>
<line x1="267.5" y1="88.46" x2="270.1" y2="88.46" stroke="#222" stroke-width="1"/>
<text x="265.5" y="91.55" font-family="'Liberation Serif', 'Times New Roman', serif" font-size="9.2" text-anchor="end" fill="#2a2a2a" stroke="#2a2a2a" stroke-width="0.2">40</text>
<line x1="267.5" y1="50.7" x2="270.1" y2="50.7" stroke="#222" stroke-width="1"/>
<text x="265.5" y="54.75" font-family="'Liberation Serif', 'Times New Roman', serif" font-size="9.2" text-anchor="end" fill="#2a2a2a" stroke="#2a2a2a" stroke-width="0.2">50</text>
<line x1="267.8" y1="239.5" x2="267.8" y2="237.3" stroke="#222" stroke-width="0.9"/>
<text transform="translate(270.5,242.5) rotate(-90)" font-family="'Liberation Serif', 'Times New Roman', serif" font-size="7.9" text-anchor="end" fill="#2a2a2a" stroke="#2a2a2a" stroke-width="0.2">0.001</text>
<line x1="276.53" y1="239.5" x2="276.53" y2="237.3" stroke="#222" stroke-width="0.9"/>
<text transform="translate(279.23,242.5) rotate(-90)" font-family="'Liberation Serif', 'Times New Roman', serif" font-size="7.9" text-anchor="end" fill="#2a2a2a" stroke="#2a2a2a" stroke-width="0.2">0.0016</text>
<line x1="285.27" y1="239.5" x2="285.27" y2="237.3" stroke="#222" stroke-width="0.9"/>
<text transform="translate(287.97,242.5) rotate(-90)" font-family="'Liberation Serif', 'Times New Roman', serif" font-size="7.9" text-anchor="end" fill="#2a2a2a" stroke="#2a2a2a" stroke-width="0.2">0.0025</text>
<line x1="294" y1="239.5" x2="294" y2="237.3" stroke="#222" stroke-width="0.9"/>
<text transform="translate(296.7,242.5) rotate(-90)" font-family="'Liberation Serif', 'Times New Roman', serif" font-size="7.9" text-anchor="end" fill="#2a2a2a" stroke="#2a2a2a" stroke-width="0.2">0.004</text>
<line x1="302.73" y1="239.5" x2="302.73" y2="237.3" stroke="#222" stroke-width="0.9"/>
<text transform="translate(305.43,242.5) rotate(-90)" font-family="'Liberation Serif', 'Times New Roman', serif" font-size="7.9" text-anchor="end" fill="#2a2a2a" stroke="#2a2a2a" stroke-width="0.2">0.0063</text>
<line x1="311.47" y1="239.5" x2="311.47" y2="237.3" stroke="#222" stroke-width="0.9"/>
<text transform="translate(314.17,242.5) rotate(-90)" font-family="'Liberation Serif', 'Times New Roman', serif" font-size="7.9" text-anchor="end" fill="#2a2a2a" stroke="#2a2a2a" stroke-width="0.2">0.01</text>
<line x1="320.2" y1="239.5" x2="320.2" y2="237.3" stroke="#222" stroke-width="0.9"/>
<text transform="translate(322.9,242.5) rotate(-90)" font-family="'Liberation Serif', 'Times New Roman', serif" font-size="7.9" text-anchor="end" fill="#2a2a2a" stroke="#2a2a2a" stroke-width="0.2">0.016</text>
<line x1="328.93" y1="239.5" x2="328.93" y2="237.3" stroke="#222" stroke-width="0.9"/>
<text transform="translate(331.63,242.5) rotate(-90)" font-family="'Liberation Serif', 'Times New Roman', serif" font-size="7.9" text-anchor="end" fill="#2a2a2a" stroke="#2a2a2a" stroke-width="0.2">0.025</text>
<line x1="337.67" y1="239.5" x2="337.67" y2="237.3" stroke="#222" stroke-width="0.9"/>
<text transform="translate(340.37,242.5) rotate(-90)" font-family="'Liberation Serif', 'Times New Roman', serif" font-size="7.9" text-anchor="end" fill="#2a2a2a" stroke="#2a2a2a" stroke-width="0.2">0.04</text>
<line x1="346.4" y1="239.5" x2="346.4" y2="237.3" stroke="#222" stroke-width="0.9"/>
<text transform="translate(349.1,242.5) rotate(-90)" font-family="'Liberation Serif', 'Times New Roman', serif" font-size="7.9" text-anchor="end" fill="#2a2a2a" stroke="#2a2a2a" stroke-width="0.2">0.063</text>
<line x1="355.13" y1="239.5" x2="355.13" y2="237.3" stroke="#222" stroke-width="0.9"/>
<text transform="translate(357.83,242.5) rotate(-90)" font-family="'Liberation Serif', 'Times New Roman', serif" font-size="7.9" text-anchor="end" fill="#2a2a2a" stroke="#2a2a2a" stroke-width="0.2">0.1</text>
<line x1="363.87" y1="239.5" x2="363.87" y2="237.3" stroke="#222" stroke-width="0.9"/>
<text transform="translate(366.57,242.5) rotate(-90)" font-family="'Liberation Serif', 'Times New Roman', serif" font-size="7.9" text-anchor="end" fill="#2a2a2a" stroke="#2a2a2a" stroke-width="0.2">0.16</text>
<line x1="372.6" y1="239.5" x2="372.6" y2="237.3" stroke="#222" stroke-width="0.9"/>
<text transform="translate(375.3,242.5) rotate(-90)" font-family="'Liberation Serif', 'Times New Roman', serif" font-size="7.9" text-anchor="end" fill="#2a2a2a" stroke="#2a2a2a" stroke-width="0.2">0.25</text>
<line x1="381.33" y1="239.5" x2="381.33" y2="237.3" stroke="#222" stroke-width="0.9"/>
<text transform="translate(384.03,242.5) rotate(-90)" font-family="'Liberation Serif', 'Times New Roman', serif" font-size="7.9" text-anchor="end" fill="#2a2a2a" stroke="#2a2a2a" stroke-width="0.2">0.4</text>
<line x1="390.07" y1="239.5" x2="390.07" y2="237.3" stroke="#222" stroke-width="0.9"/>
<text transform="translate(392.77,242.5) rotate(-90)" font-family="'Liberation Serif', 'Times New Roman', serif" font-size="7.9" text-anchor="end" fill="#2a2a2a" stroke="#2a2a2a" stroke-width="0.2">0.63</text>
<line x1="398.8" y1="239.5" x2="398.8" y2="237.3" stroke="#222" stroke-width="0.9"/>
<text transform="translate(401.5,242.5) rotate(-90)" font-family="'Liberation Serif', 'Times New Roman', serif" font-size="7.9" text-anchor="end" fill="#2a2a2a" stroke="#2a2a2a" stroke-width="0.2">1</text>
<line x1="407.53" y1="239.5" x2="407.53" y2="237.3" stroke="#222" stroke-width="0.9"/>
<text transform="translate(410.23,242.5) rotate(-90)" font-family="'Liberation Serif', 'Times New Roman', serif" font-size="7.9" text-anchor="end" fill="#2a2a2a" stroke="#2a2a2a" stroke-width="0.2">1.6</text>
<line x1="416.27" y1="239.5" x2="416.27" y2="237.3" stroke="#222" stroke-width="0.9"/>
<text transform="translate(418.97,242.5) rotate(-90)" font-family="'Liberation Serif', 'Times New Roman', serif" font-size="7.9" text-anchor="end" fill="#2a2a2a" stroke="#2a2a2a" stroke-width="0.2">2.5</text>
<line x1="425" y1="239.5" x2="425" y2="237.3" stroke="#222" stroke-width="0.9"/>
<text transform="translate(427.7,242.5) rotate(-90)" font-family="'Liberation Serif', 'Times New Roman', serif" font-size="7.9" text-anchor="end" fill="#2a2a2a" stroke="#2a2a2a" stroke-width="0.2">4</text>
<line x1="433.73" y1="239.5" x2="433.73" y2="237.3" stroke="#222" stroke-width="0.9"/>
<text transform="translate(436.43,242.5) rotate(-90)" font-family="'Liberation Serif', 'Times New Roman', serif" font-size="7.9" text-anchor="end" fill="#2a2a2a" stroke="#2a2a2a" stroke-width="0.2">6.3</text>
<line x1="442.47" y1="239.5" x2="442.47" y2="237.3" stroke="#222" stroke-width="0.9"/>
<text transform="translate(445.17,242.5) rotate(-90)" font-family="'Liberation Serif', 'Times New Roman', serif" font-size="7.9" text-anchor="end" fill="#2a2a2a" stroke="#2a2a2a" stroke-width="0.2">10</text>
<line x1="451.2" y1="239.5" x2="451.2" y2="237.3" stroke="#222" stroke-width="0.9"/>
<text transform="translate(453.9,242.5) rotate(-90)" font-family="'Liberation Serif', 'Times New Roman', serif" font-size="7.9" text-anchor="end" fill="#2a2a2a" stroke="#2a2a2a" stroke-width="0.2">16</text>
<line x1="459.93" y1="239.5" x2="459.93" y2="237.3" stroke="#222" stroke-width="0.9"/>
<text transform="translate(462.63,242.5) rotate(-90)" font-family="'Liberation Serif', 'Times New Roman', serif" font-size="7.9" text-anchor="end" fill="#2a2a2a" stroke="#2a2a2a" stroke-width="0.2">25</text>
<line x1="468.67" y1="239.5" x2="468.67" y2="237.3" stroke="#222" stroke-width="0.9"/>
<text transform="translate(471.37,242.5) rotate(-90)" font-family="'Liberation Serif', 'Times New Roman', serif" font-size="7.9" text-anchor="end" fill="#2a2a2a" stroke="#2a2a2a" stroke-width="0.2">40</text>
<line x1="477.4" y1="239.5" x2="477.4" y2="237.3" stroke="#222" stroke-width="0.9"/>
<text transform="translate(480.1,242.5) rotate(-90)" font-family="'Liberation Serif', 'Times New Roman', serif" font-size="7.9" text-anchor="end" fill="#2a2a2a" stroke="#2a2a2a" stroke-width="0.2">63</text>
<line x1="486.13" y1="239.5" x2="486.13" y2="237.3" stroke="#222" stroke-width="0.9"/>
<text transform="translate(488.83,242.5) rotate(-90)" font-family="'Liberation Serif', 'Times New Roman', serif" font-size="7.9" text-anchor="end" fill="#2a2a2a" stroke="#2a2a2a" stroke-width="0.2">100</text>
<line x1="494.87" y1="239.5" x2="494.87" y2="237.3" stroke="#222" stroke-width="0.9"/>
<text transform="translate(497.57,242.5) rotate(-90)" font-family="'Liberation Serif', 'Times New Roman', serif" font-size="7.9" text-anchor="end" fill="#2a2a2a" stroke="#2a2a2a" stroke-width="0.2">160</text>
<line x1="503.6" y1="239.5" x2="503.6" y2="237.3" stroke="#222" stroke-width="0.9"/>
<text transform="translate(506.3,242.5) rotate(-90)" font-family="'Liberation Serif', 'Times New Roman', serif" font-size="7.9" text-anchor="end" fill="#2a2a2a" stroke="#2a2a2a" stroke-width="0.2">250</text>
<line x1="512.33" y1="239.5" x2="512.33" y2="237.3" stroke="#222" stroke-width="0.9"/>
<text transform="translate(515.03,242.5) rotate(-90)" font-family="'Liberation Serif', 'Times New Roman', serif" font-size="7.9" text-anchor="end" fill="#2a2a2a" stroke="#2a2a2a" stroke-width="0.2">400</text>
<line x1="521.07" y1="239.5" x2="521.07" y2="237.3" stroke="#222" stroke-width="0.9"/>
<text transform="translate(523.77,242.5) rotate(-90)" font-family="'Liberation Serif', 'Times New Roman', serif" font-size="7.9" text-anchor="end" fill="#2a2a2a" stroke="#2a2a2a" stroke-width="0.2">630</text>
<text x="354.4" y="270.2" font-family="'Liberation Sans', Arial, sans-serif" font-size="9.7" text-anchor="start" fill="#2e2e2e" stroke="#2e2e2e" stroke-width="0.2">Pore-throat radius (&#956;m)</text>
<text transform="translate(252.2,153.2) rotate(-90)" font-family="'Liberation Sans', Arial, sans-serif" font-size="9.7" text-anchor="middle" fill="#2e2e2e" stroke="#2e2e2e" stroke-width="0.2">Percentage (%)</text>
<rect x="267.6" y="29.3" width="14.6" height="13.4" fill="#ffffff" stroke="#6a6a6a" stroke-width="1"/>
<text x="274.9" y="41" font-family="'Liberation Sans', Arial, sans-serif" font-size="14" text-anchor="middle" fill="#1a1a1a" stroke="#1a1a1a" stroke-width="0.2">B</text>
<rect x="440.4" y="111.9" width="80.9" height="123.5" fill="#ffffff" stroke="#555" stroke-width="1"/>
<line x1="444.6" y1="119" x2="456.6" y2="119" stroke="#1d9ad6" stroke-width="1.7"/>
<text x="457.2" y="121.6" font-family="'Liberation Serif', 'Times New Roman', serif" font-size="8.3" text-anchor="start" fill="#1a1a1a" stroke="#1a1a1a" stroke-width="0.2" letter-spacing="0.06">X8HC-2512.1 m</text>
<line x1="444.6" y1="131.1" x2="456.6" y2="131.1" stroke="#f39224" stroke-width="1.7"/>
<text x="457.2" y="133.7" font-family="'Liberation Serif', 'Times New Roman', serif" font-size="8.3" text-anchor="start" fill="#1a1a1a" stroke="#1a1a1a" stroke-width="0.2" letter-spacing="0.06">X8HC-2473.23 m</text>
<line x1="444.6" y1="143.2" x2="456.6" y2="143.2" stroke="#e23a94" stroke-width="1.7"/>
<text x="457.2" y="145.8" font-family="'Liberation Serif', 'Times New Roman', serif" font-size="8.3" text-anchor="start" fill="#1a1a1a" stroke="#1a1a1a" stroke-width="0.2" letter-spacing="0.06">X8HC-2477.1 m</text>
<line x1="444.6" y1="155.3" x2="456.6" y2="155.3" stroke="#f2b134" stroke-width="1.7"/>
<text x="457.2" y="157.9" font-family="'Liberation Serif', 'Times New Roman', serif" font-size="8.3" text-anchor="start" fill="#1a1a1a" stroke="#1a1a1a" stroke-width="0.2" letter-spacing="0.06">X8HC-2505.12 m</text>
<line x1="444.6" y1="167.4" x2="456.6" y2="167.4" stroke="#5b9ccc" stroke-width="1.7"/>
<text x="457.2" y="170" font-family="'Liberation Serif', 'Times New Roman', serif" font-size="8.3" text-anchor="start" fill="#1a1a1a" stroke="#1a1a1a" stroke-width="0.2" letter-spacing="0.06">X8HC-2471.1 m</text>
<line x1="444.6" y1="179.5" x2="456.6" y2="179.5" stroke="#4a9e44" stroke-width="1.7"/>
<text x="457.2" y="182.1" font-family="'Liberation Serif', 'Times New Roman', serif" font-size="8.3" text-anchor="start" fill="#1a1a1a" stroke="#1a1a1a" stroke-width="0.2" letter-spacing="0.06">X8HC-2479.1 m</text>
<line x1="444.6" y1="191.6" x2="456.6" y2="191.6" stroke="#86a6dc" stroke-width="1.7"/>
<text x="457.2" y="194.2" font-family="'Liberation Serif', 'Times New Roman', serif" font-size="8.3" text-anchor="start" fill="#1a1a1a" stroke="#1a1a1a" stroke-width="0.2" letter-spacing="0.06">X3HC-2488.6 m</text>
<line x1="444.6" y1="203.7" x2="456.6" y2="203.7" stroke="#f5a088" stroke-width="1.7"/>
<text x="457.2" y="206.3" font-family="'Liberation Serif', 'Times New Roman', serif" font-size="8.3" text-anchor="start" fill="#1a1a1a" stroke="#1a1a1a" stroke-width="0.2" letter-spacing="0.06">X3HC-2490.5 m</text>
<line x1="444.6" y1="215.8" x2="456.6" y2="215.8" stroke="#bdbdbd" stroke-width="1.7"/>
<text x="457.2" y="218.4" font-family="'Liberation Serif', 'Times New Roman', serif" font-size="8.3" text-anchor="start" fill="#1a1a1a" stroke="#1a1a1a" stroke-width="0.2" letter-spacing="0.06">X3HC-2491.7 m</text>
<line x1="444.6" y1="227.9" x2="456.6" y2="227.9" stroke="#f8c98c" stroke-width="1.7"/>
<text x="457.2" y="230.5" font-family="'Liberation Serif', 'Times New Roman', serif" font-size="8.3" text-anchor="start" fill="#1a1a1a" stroke="#1a1a1a" stroke-width="0.2" letter-spacing="0.06">X3HC-2493.45 m</text>
<rect x="267.3" y="322" width="262.5" height="191" fill="#ffffff"/>
<line x1="267.3" y1="474.8" x2="529.8" y2="474.8" stroke="#d3e7c2" stroke-width="1"/>
<line x1="267.3" y1="436.6" x2="529.8" y2="436.6" stroke="#d3e7c2" stroke-width="1"/>
<line x1="267.3" y1="398.4" x2="529.8" y2="398.4" stroke="#d8eac8" stroke-width="1"/>
<line x1="267.3" y1="360.2" x2="529.8" y2="360.2" stroke="#e4f0da" stroke-width="1"/>
<path d="M290,513 C290.5,510 292.08,501.33 293,495 C293.92,488.67 294.78,480 295.5,475 C296.22,470 296.8,466.97 297.3,465 C297.8,463.03 298.05,463.03 298.5,463.2 C298.95,463.37 299.33,463.53 300,466 C300.67,468.47 301.47,473.73 302.5,478 C303.53,482.27 305.12,488.85 306.2,491.6 C307.28,494.35 307.92,493.78 309,494.5 C310.08,495.22 311.2,495.35 312.7,495.9 C314.2,496.45 316.18,497.25 318,497.8 C319.82,498.35 321.93,499.12 323.6,499.2 C325.27,499.28 326.55,498.85 328,498.3 C329.45,497.75 330.88,497.12 332.3,495.9 C333.72,494.68 335.22,492.45 336.5,491 C337.78,489.55 339.03,487.37 340,487.2 C340.97,487.03 341.58,488.37 342.3,490 C343.02,491.63 343.65,494.33 344.3,497 C344.95,499.67 345.65,503.33 346.2,506 C346.75,508.67 347.13,511.92 347.6,513 C348.07,514.08 348.77,512.58 349,512.5" fill="none" stroke="#93b2e0" stroke-width="1.5" stroke-linejoin="round" stroke-linecap="round"/>
<path d="M290,513 C290.5,508.33 292.08,493.83 293,485 C293.92,476.17 294.78,465.5 295.5,460 C296.22,454.5 296.8,453.72 297.3,452 C297.8,450.28 298.05,449.53 298.5,449.7 C298.95,449.87 299.33,449.62 300,453 C300.67,456.38 301.67,464.83 302.5,470 C303.33,475.17 304.08,480.33 305,484 C305.92,487.67 306.67,489.75 308,492 C309.33,494.25 311,495.92 313,497.5 C315,499.08 317.17,500.25 320,501.5 C322.83,502.75 326.67,504 330,505 C333.33,506 336.67,506.75 340,507.5 C343.33,508.25 346.67,509 350,509.5 C353.33,510 358.33,510.33 360,510.5" fill="none" stroke="#5b9ccc" stroke-width="1.5" stroke-linejoin="round" stroke-linecap="round"/>
<path d="M289.8,513 C290.25,506.67 291.63,486.33 292.5,475 C293.37,463.67 294.25,452.5 295,445 C295.75,437.5 296.42,432.95 297,430 C297.58,427.05 297.97,426.97 298.5,427.3 C299.03,427.63 299.53,428.22 300.2,432 C300.87,435.78 301.87,445.17 302.5,450 C303.13,454.83 303.33,456.33 304,461 C304.67,465.67 305.6,473.27 306.5,478 C307.4,482.73 308.15,486.32 309.4,489.4 C310.65,492.48 312.35,494.68 314,496.5 C315.65,498.32 317.3,499.05 319.3,500.3 C321.3,501.55 323.47,502.92 326,504 C328.53,505.08 331.33,506 334.5,506.8 C337.67,507.6 340.75,508.27 345,508.8 C349.25,509.33 355,509.88 360,510 C365,510.12 370.83,509.78 375,509.5 C379.17,509.22 382.22,508.72 385,508.3 C387.78,507.88 389.87,507.88 391.7,507 C393.53,506.12 394.7,505.5 396,503 C397.3,500.5 398.35,495.38 399.5,492 C400.65,488.62 401.9,483.53 402.9,482.7 C403.9,481.87 404.57,484.12 405.5,487 C406.43,489.88 407.67,496.33 408.5,500 C409.33,503.67 409.88,506.83 410.5,509 C411.12,511.17 411.92,512.33 412.2,513" fill="none" stroke="#e23a94" stroke-width="1.8" stroke-linejoin="round" stroke-linecap="round"/>
<path d="M289.8,513 C290.25,505.83 291.63,483 292.5,470 C293.37,457 294.25,443.5 295,435 C295.75,426.5 296.42,422.1 297,419 C297.58,415.9 297.97,416.07 298.5,416.4 C299.03,416.73 299.62,417.07 300.2,421 C300.78,424.93 301.37,434.42 302,440 C302.63,445.58 303.33,448.83 304,454.5 C304.67,460.17 305.28,468.55 306,474 C306.72,479.45 307.3,483.78 308.3,487.2 C309.3,490.62 310.53,492.68 312,494.5 C313.47,496.32 315.27,496.85 317.1,498.1 C318.93,499.35 320.82,500.9 323,502 C325.18,503.1 326.47,503.6 330.2,504.7 C333.93,505.8 341.27,507.75 345.4,508.6 C349.53,509.45 351.33,509.63 355,509.8 C358.67,509.97 364.4,509.98 367.4,509.6 C370.4,509.22 371.23,508.77 373,507.5 C374.77,506.23 376.58,503.92 378,502 C379.42,500.08 380.47,497.5 381.5,496 C382.53,494.5 383.28,493 384.2,493 C385.12,493 386.03,494 387,496 C387.97,498 389.13,502.5 390,505 C390.87,507.5 391.6,509.67 392.2,511 C392.8,512.33 393.37,512.67 393.6,513" fill="none" stroke="#1d9ad6" stroke-width="2" stroke-linejoin="round" stroke-linecap="round"/>
<path d="M306.5,513 C306.88,510 308.08,504.67 308.8,495 C309.52,485.33 310.13,468.83 310.8,455 C311.47,441.17 312.17,423.17 312.8,412 C313.43,400.83 314.08,392.88 314.6,388 C315.12,383.12 315.43,382.87 315.9,382.7 C316.37,382.53 316.75,382.45 317.4,387 C318.05,391.55 318.98,400.33 319.8,410 C320.62,419.67 321.48,436.67 322.3,445 C323.12,453.33 323.92,458.83 324.7,460 C325.48,461.17 326.2,455.33 327,452 C327.8,448.67 328.62,442.92 329.5,440 C330.38,437.08 331.47,434.33 332.3,434.5 C333.13,434.67 333.8,435.92 334.5,441 C335.2,446.08 335.75,456 336.5,465 C337.25,474 338.07,487 339,495 C339.93,503 341.58,510 342.1,513" fill="none" stroke="#f39224" stroke-width="1.7" stroke-linejoin="round" stroke-linecap="round"/>
<path d="M306.2,513 C306.58,510 307.78,503.83 308.5,495 C309.22,486.17 309.83,472.5 310.5,460 C311.17,447.5 311.83,431.33 312.5,420 C313.17,408.67 313.93,397.4 314.5,392 C315.07,386.6 315.4,387.6 315.9,387.6 C316.4,387.6 316.82,386.6 317.5,392 C318.18,397.4 319.17,408.67 320,420 C320.83,431.33 321.72,450.8 322.5,460 C323.28,469.2 323.95,474.2 324.7,475.2 C325.45,476.2 326.2,470.53 327,466 C327.8,461.47 328.62,452.28 329.5,448 C330.38,443.72 331.47,440.3 332.3,440.3 C333.13,440.3 333.8,443.05 334.5,448 C335.2,452.95 335.75,461.67 336.5,470 C337.25,478.33 338.22,490.83 339,498 C339.78,505.17 340.83,510.5 341.2,513" fill="none" stroke="#4a9e44" stroke-width="1.4" stroke-linejoin="round" stroke-linecap="round"/>
<path d="M267.3,322 V513 H529.8 V322 Z" fill="none" stroke="#333333" stroke-width="1.35"/>
<line x1="268.1" y1="512.8" x2="528.8" y2="512.8" stroke="#9ab8e4" stroke-width="1.1"/>
<line x1="282" y1="512.8" x2="306.5" y2="512.8" stroke="#3f9a45" stroke-width="1.1"/>
<line x1="341" y1="512.8" x2="347" y2="512.8" stroke="#3f9a45" stroke-width="1.1"/>
<line x1="267.3" y1="513" x2="269.9" y2="513" stroke="#222" stroke-width="1"/>
<text x="265.3" y="514.95" font-family="'Liberation Serif', 'Times New Roman', serif" font-size="9.2" text-anchor="end" fill="#2a2a2a" stroke="#2a2a2a" stroke-width="0.2">0</text>
<line x1="267.3" y1="474.8" x2="269.9" y2="474.8" stroke="#222" stroke-width="1"/>
<text x="265.3" y="478.35" font-family="'Liberation Serif', 'Times New Roman', serif" font-size="9.2" text-anchor="end" fill="#2a2a2a" stroke="#2a2a2a" stroke-width="0.2">10</text>
<line x1="267.3" y1="436.6" x2="269.9" y2="436.6" stroke="#222" stroke-width="1"/>
<text x="265.3" y="440.25" font-family="'Liberation Serif', 'Times New Roman', serif" font-size="9.2" text-anchor="end" fill="#2a2a2a" stroke="#2a2a2a" stroke-width="0.2">20</text>
<line x1="267.3" y1="398.4" x2="269.9" y2="398.4" stroke="#222" stroke-width="1"/>
<text x="265.3" y="403.65" font-family="'Liberation Serif', 'Times New Roman', serif" font-size="9.2" text-anchor="end" fill="#2a2a2a" stroke="#2a2a2a" stroke-width="0.2">30</text>
<line x1="267.3" y1="360.2" x2="269.9" y2="360.2" stroke="#222" stroke-width="1"/>
<text x="265.3" y="366.75" font-family="'Liberation Serif', 'Times New Roman', serif" font-size="9.2" text-anchor="end" fill="#2a2a2a" stroke="#2a2a2a" stroke-width="0.2">40</text>
<line x1="267.3" y1="322" x2="269.9" y2="322" stroke="#222" stroke-width="1"/>
<text x="265.3" y="330.05" font-family="'Liberation Serif', 'Times New Roman', serif" font-size="9.2" text-anchor="end" fill="#2a2a2a" stroke="#2a2a2a" stroke-width="0.2">50</text>
<line x1="267.6" y1="513" x2="267.6" y2="510.8" stroke="#222" stroke-width="0.9"/>
<text transform="translate(270.3,516.6) rotate(-90)" font-family="'Liberation Serif', 'Times New Roman', serif" font-size="7.9" text-anchor="end" fill="#2a2a2a" stroke="#2a2a2a" stroke-width="0.2">0.001</text>
<line x1="276.35" y1="513" x2="276.35" y2="510.8" stroke="#222" stroke-width="0.9"/>
<text transform="translate(279.05,516.6) rotate(-90)" font-family="'Liberation Serif', 'Times New Roman', serif" font-size="7.9" text-anchor="end" fill="#2a2a2a" stroke="#2a2a2a" stroke-width="0.2">0.0016</text>
<line x1="285.1" y1="513" x2="285.1" y2="510.8" stroke="#222" stroke-width="0.9"/>
<text transform="translate(287.8,516.6) rotate(-90)" font-family="'Liberation Serif', 'Times New Roman', serif" font-size="7.9" text-anchor="end" fill="#2a2a2a" stroke="#2a2a2a" stroke-width="0.2">0.0025</text>
<line x1="293.85" y1="513" x2="293.85" y2="510.8" stroke="#222" stroke-width="0.9"/>
<text transform="translate(296.55,516.6) rotate(-90)" font-family="'Liberation Serif', 'Times New Roman', serif" font-size="7.9" text-anchor="end" fill="#2a2a2a" stroke="#2a2a2a" stroke-width="0.2">0.004</text>
<line x1="302.6" y1="513" x2="302.6" y2="510.8" stroke="#222" stroke-width="0.9"/>
<text transform="translate(305.3,516.6) rotate(-90)" font-family="'Liberation Serif', 'Times New Roman', serif" font-size="7.9" text-anchor="end" fill="#2a2a2a" stroke="#2a2a2a" stroke-width="0.2">0.0063</text>
<line x1="311.35" y1="513" x2="311.35" y2="510.8" stroke="#222" stroke-width="0.9"/>
<text transform="translate(314.05,516.6) rotate(-90)" font-family="'Liberation Serif', 'Times New Roman', serif" font-size="7.9" text-anchor="end" fill="#2a2a2a" stroke="#2a2a2a" stroke-width="0.2">0.01</text>
<line x1="320.1" y1="513" x2="320.1" y2="510.8" stroke="#222" stroke-width="0.9"/>
<text transform="translate(322.8,516.6) rotate(-90)" font-family="'Liberation Serif', 'Times New Roman', serif" font-size="7.9" text-anchor="end" fill="#2a2a2a" stroke="#2a2a2a" stroke-width="0.2">0.016</text>
<line x1="328.85" y1="513" x2="328.85" y2="510.8" stroke="#222" stroke-width="0.9"/>
<text transform="translate(331.55,516.6) rotate(-90)" font-family="'Liberation Serif', 'Times New Roman', serif" font-size="7.9" text-anchor="end" fill="#2a2a2a" stroke="#2a2a2a" stroke-width="0.2">0.025</text>
<line x1="337.6" y1="513" x2="337.6" y2="510.8" stroke="#222" stroke-width="0.9"/>
<text transform="translate(340.3,516.6) rotate(-90)" font-family="'Liberation Serif', 'Times New Roman', serif" font-size="7.9" text-anchor="end" fill="#2a2a2a" stroke="#2a2a2a" stroke-width="0.2">0.04</text>
<line x1="346.35" y1="513" x2="346.35" y2="510.8" stroke="#222" stroke-width="0.9"/>
<text transform="translate(349.05,516.6) rotate(-90)" font-family="'Liberation Serif', 'Times New Roman', serif" font-size="7.9" text-anchor="end" fill="#2a2a2a" stroke="#2a2a2a" stroke-width="0.2">0.063</text>
<line x1="355.1" y1="513" x2="355.1" y2="510.8" stroke="#222" stroke-width="0.9"/>
<text transform="translate(357.8,516.6) rotate(-90)" font-family="'Liberation Serif', 'Times New Roman', serif" font-size="7.9" text-anchor="end" fill="#2a2a2a" stroke="#2a2a2a" stroke-width="0.2">0.1</text>
<line x1="363.85" y1="513" x2="363.85" y2="510.8" stroke="#222" stroke-width="0.9"/>
<text transform="translate(366.55,516.6) rotate(-90)" font-family="'Liberation Serif', 'Times New Roman', serif" font-size="7.9" text-anchor="end" fill="#2a2a2a" stroke="#2a2a2a" stroke-width="0.2">0.16</text>
<line x1="372.6" y1="513" x2="372.6" y2="510.8" stroke="#222" stroke-width="0.9"/>
<text transform="translate(375.3,516.6) rotate(-90)" font-family="'Liberation Serif', 'Times New Roman', serif" font-size="7.9" text-anchor="end" fill="#2a2a2a" stroke="#2a2a2a" stroke-width="0.2">0.25</text>
<line x1="381.35" y1="513" x2="381.35" y2="510.8" stroke="#222" stroke-width="0.9"/>
<text transform="translate(384.05,516.6) rotate(-90)" font-family="'Liberation Serif', 'Times New Roman', serif" font-size="7.9" text-anchor="end" fill="#2a2a2a" stroke="#2a2a2a" stroke-width="0.2">0.4</text>
<line x1="390.1" y1="513" x2="390.1" y2="510.8" stroke="#222" stroke-width="0.9"/>
<text transform="translate(392.8,516.6) rotate(-90)" font-family="'Liberation Serif', 'Times New Roman', serif" font-size="7.9" text-anchor="end" fill="#2a2a2a" stroke="#2a2a2a" stroke-width="0.2">0.63</text>
<line x1="398.85" y1="513" x2="398.85" y2="510.8" stroke="#222" stroke-width="0.9"/>
<text transform="translate(401.55,516.6) rotate(-90)" font-family="'Liberation Serif', 'Times New Roman', serif" font-size="7.9" text-anchor="end" fill="#2a2a2a" stroke="#2a2a2a" stroke-width="0.2">1</text>
<line x1="407.6" y1="513" x2="407.6" y2="510.8" stroke="#222" stroke-width="0.9"/>
<text transform="translate(410.3,516.6) rotate(-90)" font-family="'Liberation Serif', 'Times New Roman', serif" font-size="7.9" text-anchor="end" fill="#2a2a2a" stroke="#2a2a2a" stroke-width="0.2">1.6</text>
<line x1="416.35" y1="513" x2="416.35" y2="510.8" stroke="#222" stroke-width="0.9"/>
<text transform="translate(419.05,516.6) rotate(-90)" font-family="'Liberation Serif', 'Times New Roman', serif" font-size="7.9" text-anchor="end" fill="#2a2a2a" stroke="#2a2a2a" stroke-width="0.2">2.5</text>
<line x1="425.1" y1="513" x2="425.1" y2="510.8" stroke="#222" stroke-width="0.9"/>
<text transform="translate(427.8,516.6) rotate(-90)" font-family="'Liberation Serif', 'Times New Roman', serif" font-size="7.9" text-anchor="end" fill="#2a2a2a" stroke="#2a2a2a" stroke-width="0.2">4</text>
<line x1="433.85" y1="513" x2="433.85" y2="510.8" stroke="#222" stroke-width="0.9"/>
<text transform="translate(436.55,516.6) rotate(-90)" font-family="'Liberation Serif', 'Times New Roman', serif" font-size="7.9" text-anchor="end" fill="#2a2a2a" stroke="#2a2a2a" stroke-width="0.2">6.3</text>
<line x1="442.6" y1="513" x2="442.6" y2="510.8" stroke="#222" stroke-width="0.9"/>
<text transform="translate(445.3,516.6) rotate(-90)" font-family="'Liberation Serif', 'Times New Roman', serif" font-size="7.9" text-anchor="end" fill="#2a2a2a" stroke="#2a2a2a" stroke-width="0.2">10</text>
<line x1="451.35" y1="513" x2="451.35" y2="510.8" stroke="#222" stroke-width="0.9"/>
<text transform="translate(454.05,516.6) rotate(-90)" font-family="'Liberation Serif', 'Times New Roman', serif" font-size="7.9" text-anchor="end" fill="#2a2a2a" stroke="#2a2a2a" stroke-width="0.2">16</text>
<line x1="460.1" y1="513" x2="460.1" y2="510.8" stroke="#222" stroke-width="0.9"/>
<text transform="translate(462.8,516.6) rotate(-90)" font-family="'Liberation Serif', 'Times New Roman', serif" font-size="7.9" text-anchor="end" fill="#2a2a2a" stroke="#2a2a2a" stroke-width="0.2">25</text>
<line x1="468.85" y1="513" x2="468.85" y2="510.8" stroke="#222" stroke-width="0.9"/>
<text transform="translate(471.55,516.6) rotate(-90)" font-family="'Liberation Serif', 'Times New Roman', serif" font-size="7.9" text-anchor="end" fill="#2a2a2a" stroke="#2a2a2a" stroke-width="0.2">40</text>
<line x1="477.6" y1="513" x2="477.6" y2="510.8" stroke="#222" stroke-width="0.9"/>
<text transform="translate(480.3,516.6) rotate(-90)" font-family="'Liberation Serif', 'Times New Roman', serif" font-size="7.9" text-anchor="end" fill="#2a2a2a" stroke="#2a2a2a" stroke-width="0.2">63</text>
<line x1="486.35" y1="513" x2="486.35" y2="510.8" stroke="#222" stroke-width="0.9"/>
<text transform="translate(489.05,516.6) rotate(-90)" font-family="'Liberation Serif', 'Times New Roman', serif" font-size="7.9" text-anchor="end" fill="#2a2a2a" stroke="#2a2a2a" stroke-width="0.2">100</text>
<line x1="495.1" y1="513" x2="495.1" y2="510.8" stroke="#222" stroke-width="0.9"/>
<text transform="translate(497.8,516.6) rotate(-90)" font-family="'Liberation Serif', 'Times New Roman', serif" font-size="7.9" text-anchor="end" fill="#2a2a2a" stroke="#2a2a2a" stroke-width="0.2">160</text>
<line x1="503.85" y1="513" x2="503.85" y2="510.8" stroke="#222" stroke-width="0.9"/>
<text transform="translate(506.55,516.6) rotate(-90)" font-family="'Liberation Serif', 'Times New Roman', serif" font-size="7.9" text-anchor="end" fill="#2a2a2a" stroke="#2a2a2a" stroke-width="0.2">250</text>
<line x1="512.6" y1="513" x2="512.6" y2="510.8" stroke="#222" stroke-width="0.9"/>
<text transform="translate(515.3,516.6) rotate(-90)" font-family="'Liberation Serif', 'Times New Roman', serif" font-size="7.9" text-anchor="end" fill="#2a2a2a" stroke="#2a2a2a" stroke-width="0.2">400</text>
<line x1="521.35" y1="513" x2="521.35" y2="510.8" stroke="#222" stroke-width="0.9"/>
<text transform="translate(524.05,516.6) rotate(-90)" font-family="'Liberation Serif', 'Times New Roman', serif" font-size="7.9" text-anchor="end" fill="#2a2a2a" stroke="#2a2a2a" stroke-width="0.2">630</text>
<text x="357.5" y="544" font-family="'Liberation Sans', Arial, sans-serif" font-size="9.7" text-anchor="start" fill="#2e2e2e" stroke="#2e2e2e" stroke-width="0.2">Pore-throat radius (&#956;m)</text>
<text transform="translate(252.2,428.5) rotate(-90)" font-family="'Liberation Sans', Arial, sans-serif" font-size="9.7" text-anchor="middle" fill="#2e2e2e" stroke="#2e2e2e" stroke-width="0.2">Percentage (%)</text>
<rect x="267.6" y="304.3" width="14.6" height="13.4" fill="#ffffff" stroke="#6a6a6a" stroke-width="1"/>
<text x="274.9" y="316.6" font-family="'Liberation Sans', Arial, sans-serif" font-size="14.8" text-anchor="middle" fill="#1a1a1a" stroke="#1a1a1a" stroke-width="0.2">D</text>
<rect x="438.1" y="429.7" width="82.5" height="76" fill="#ffffff" stroke="#555" stroke-width="1"/>
<line x1="442.3" y1="436.9" x2="454.3" y2="436.9" stroke="#1d9ad6" stroke-width="1.7"/>
<text x="454.9" y="439.5" font-family="'Liberation Serif', 'Times New Roman', serif" font-size="8.5" text-anchor="start" fill="#1a1a1a" stroke="#1a1a1a" stroke-width="0.2" letter-spacing="0.06">X8HC-2510.1 m</text>
<line x1="442.3" y1="449.6" x2="454.3" y2="449.6" stroke="#f39224" stroke-width="1.7"/>
<text x="454.9" y="452.2" font-family="'Liberation Serif', 'Times New Roman', serif" font-size="8.5" text-anchor="start" fill="#1a1a1a" stroke="#1a1a1a" stroke-width="0.2" letter-spacing="0.06">X8HC-2516.1 m</text>
<line x1="442.3" y1="459.6" x2="454.3" y2="459.6" stroke="#e23a94" stroke-width="1.7"/>
<text x="454.9" y="462.2" font-family="'Liberation Serif', 'Times New Roman', serif" font-size="8.5" text-anchor="start" fill="#1a1a1a" stroke="#1a1a1a" stroke-width="0.2" letter-spacing="0.06">X8HC-2487.1 m</text>
<line x1="442.3" y1="472.3" x2="454.3" y2="472.3" stroke="#5b9ccc" stroke-width="1.7"/>
<text x="454.9" y="474.9" font-family="'Liberation Serif', 'Times New Roman', serif" font-size="8.5" text-anchor="start" fill="#1a1a1a" stroke="#1a1a1a" stroke-width="0.2" letter-spacing="0.06">X8HC-2501.24 m</text>
<line x1="442.3" y1="485.4" x2="454.3" y2="485.4" stroke="#4a9e44" stroke-width="1.7"/>
<text x="454.9" y="488" font-family="'Liberation Serif', 'Times New Roman', serif" font-size="8.5" text-anchor="start" fill="#1a1a1a" stroke="#1a1a1a" stroke-width="0.2" letter-spacing="0.06">X8HC-2497.1 m</text>
<line x1="442.3" y1="498" x2="454.3" y2="498" stroke="#93b2e0" stroke-width="1.7"/>
<text x="454.9" y="500.6" font-family="'Liberation Serif', 'Times New Roman', serif" font-size="8.5" text-anchor="start" fill="#1a1a1a" stroke="#1a1a1a" stroke-width="0.2" letter-spacing="0.06">X3HC-2460.0 m</text>
</svg>
</body></html>
